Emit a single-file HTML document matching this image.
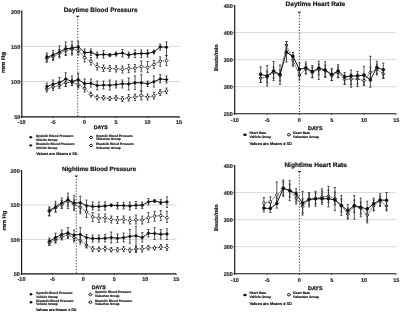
<!DOCTYPE html><html><head><meta charset="utf-8"><style>html,body{margin:0;padding:0;background:#fff;width:400px;height:312px;overflow:hidden}svg{display:block;filter:blur(0.3px)}text{font-family:"Liberation Sans",sans-serif;text-rendering:geometricPrecision}</style></head><body>
<svg width="400" height="312" viewBox="0 0 400 312">
<rect width="400" height="312" fill="#fff"/>
<line x1="22.30" y1="46.30" x2="179.60" y2="46.30" stroke="#cfcfcf" stroke-width="0.8" />
<line x1="22.30" y1="81.50" x2="179.60" y2="81.50" stroke="#cfcfcf" stroke-width="0.8" />
<line x1="21.80" y1="10.50" x2="21.80" y2="117.50" stroke="#111" stroke-width="1.15" />
<line x1="21.20" y1="116.90" x2="179.60" y2="116.90" stroke="#111" stroke-width="1.15" />
<line x1="20.50" y1="11.20" x2="21.70" y2="11.20" stroke="#1a1a1a" stroke-width="0.7" />
<text x="20.25" y="13.58" font-size="5.5" text-anchor="end" font-weight="bold" fill="#1a1a1a" stroke="#1a1a1a" stroke-width="0.15" >200</text>
<line x1="20.50" y1="46.30" x2="21.70" y2="46.30" stroke="#1a1a1a" stroke-width="0.7" />
<text x="20.25" y="48.68" font-size="5.5" text-anchor="end" font-weight="bold" fill="#1a1a1a" stroke="#1a1a1a" stroke-width="0.15" >150</text>
<line x1="20.50" y1="81.50" x2="21.70" y2="81.50" stroke="#1a1a1a" stroke-width="0.7" />
<text x="20.25" y="83.88" font-size="5.5" text-anchor="end" font-weight="bold" fill="#1a1a1a" stroke="#1a1a1a" stroke-width="0.15" >100</text>
<line x1="20.50" y1="116.90" x2="21.70" y2="116.90" stroke="#1a1a1a" stroke-width="0.7" />
<text x="20.25" y="119.28" font-size="5.5" text-anchor="end" font-weight="bold" fill="#1a1a1a" stroke="#1a1a1a" stroke-width="0.15" >50</text>
<line x1="21.60" y1="116.90" x2="21.60" y2="118.20" stroke="#1a1a1a" stroke-width="0.7" />
<text x="21.60" y="124.33" font-size="5.5" text-anchor="middle" font-weight="bold" fill="#1a1a1a" stroke="#1a1a1a" stroke-width="0.15" >-10</text>
<line x1="53.10" y1="116.90" x2="53.10" y2="118.20" stroke="#1a1a1a" stroke-width="0.7" />
<text x="53.10" y="124.33" font-size="5.5" text-anchor="middle" font-weight="bold" fill="#1a1a1a" stroke="#1a1a1a" stroke-width="0.15" >-5</text>
<line x1="84.60" y1="116.90" x2="84.60" y2="118.20" stroke="#1a1a1a" stroke-width="0.7" />
<text x="84.60" y="124.33" font-size="5.5" text-anchor="middle" font-weight="bold" fill="#1a1a1a" stroke="#1a1a1a" stroke-width="0.15" >0</text>
<line x1="116.10" y1="116.90" x2="116.10" y2="118.20" stroke="#1a1a1a" stroke-width="0.7" />
<text x="116.10" y="124.33" font-size="5.5" text-anchor="middle" font-weight="bold" fill="#1a1a1a" stroke="#1a1a1a" stroke-width="0.15" >5</text>
<line x1="147.60" y1="116.90" x2="147.60" y2="118.20" stroke="#1a1a1a" stroke-width="0.7" />
<text x="147.60" y="124.33" font-size="5.5" text-anchor="middle" font-weight="bold" fill="#1a1a1a" stroke="#1a1a1a" stroke-width="0.15" >10</text>
<line x1="179.10" y1="116.90" x2="179.10" y2="118.20" stroke="#1a1a1a" stroke-width="0.7" />
<text x="179.10" y="124.33" font-size="5.5" text-anchor="middle" font-weight="bold" fill="#1a1a1a" stroke="#1a1a1a" stroke-width="0.15" >15</text>
<line x1="77.75" y1="19.30" x2="77.75" y2="116.90" stroke="#222" stroke-width="0.9" stroke-dasharray="1.2 1.7"/>
<path d="M75.85 15.80L79.65 15.80L77.75 17.80Z" fill="#222"/>
<text x="63.75" y="11.70" font-size="6.38" text-anchor="start" font-weight="bold" fill="#111" stroke="#111" stroke-width="0.18" textLength="73.75" lengthAdjust="spacingAndGlyphs" >Daytime Blood Pressure</text>
<text x="93.75" y="129.38" font-size="5.21" text-anchor="start" font-weight="bold" fill="#111" stroke="#111" stroke-width="0.25" textLength="14.00" lengthAdjust="spacingAndGlyphs" >DAYS</text>
<text x="0" y="0" font-size="5.70" font-weight="bold" text-anchor="middle" fill="#111" stroke="#111" stroke-width="0.15" textLength="21.20" lengthAdjust="spacingAndGlyphs" transform="translate(4.90 62.50) rotate(-90)">mm Hg</text>
<line x1="46.80" y1="86.00" x2="46.80" y2="92.00" stroke="#2a2a2a" stroke-width="0.8" />
<line x1="45.70" y1="86.00" x2="47.90" y2="86.00" stroke="#2a2a2a" stroke-width="0.8" />
<line x1="45.70" y1="92.00" x2="47.90" y2="92.00" stroke="#2a2a2a" stroke-width="0.8" />
<line x1="53.10" y1="84.00" x2="53.10" y2="90.50" stroke="#2a2a2a" stroke-width="0.8" />
<line x1="52.00" y1="84.00" x2="54.20" y2="84.00" stroke="#2a2a2a" stroke-width="0.8" />
<line x1="52.00" y1="90.50" x2="54.20" y2="90.50" stroke="#2a2a2a" stroke-width="0.8" />
<line x1="59.40" y1="82.00" x2="59.40" y2="88.50" stroke="#2a2a2a" stroke-width="0.8" />
<line x1="58.30" y1="82.00" x2="60.50" y2="82.00" stroke="#2a2a2a" stroke-width="0.8" />
<line x1="58.30" y1="88.50" x2="60.50" y2="88.50" stroke="#2a2a2a" stroke-width="0.8" />
<line x1="65.70" y1="79.00" x2="65.70" y2="86.50" stroke="#2a2a2a" stroke-width="0.8" />
<line x1="64.60" y1="79.00" x2="66.80" y2="79.00" stroke="#2a2a2a" stroke-width="0.8" />
<line x1="64.60" y1="86.50" x2="66.80" y2="86.50" stroke="#2a2a2a" stroke-width="0.8" />
<line x1="72.00" y1="79.00" x2="72.00" y2="85.50" stroke="#2a2a2a" stroke-width="0.8" />
<line x1="70.90" y1="79.00" x2="73.10" y2="79.00" stroke="#2a2a2a" stroke-width="0.8" />
<line x1="70.90" y1="85.50" x2="73.10" y2="85.50" stroke="#2a2a2a" stroke-width="0.8" />
<line x1="78.30" y1="81.00" x2="78.30" y2="88.00" stroke="#2a2a2a" stroke-width="0.8" />
<line x1="77.20" y1="81.00" x2="79.40" y2="81.00" stroke="#2a2a2a" stroke-width="0.8" />
<line x1="77.20" y1="88.00" x2="79.40" y2="88.00" stroke="#2a2a2a" stroke-width="0.8" />
<line x1="84.60" y1="85.00" x2="84.60" y2="92.00" stroke="#2a2a2a" stroke-width="0.8" />
<line x1="83.50" y1="85.00" x2="85.70" y2="85.00" stroke="#2a2a2a" stroke-width="0.8" />
<line x1="83.50" y1="92.00" x2="85.70" y2="92.00" stroke="#2a2a2a" stroke-width="0.8" />
<line x1="90.90" y1="92.00" x2="90.90" y2="97.00" stroke="#2a2a2a" stroke-width="0.8" />
<line x1="89.80" y1="92.00" x2="92.00" y2="92.00" stroke="#2a2a2a" stroke-width="0.8" />
<line x1="89.80" y1="97.00" x2="92.00" y2="97.00" stroke="#2a2a2a" stroke-width="0.8" />
<line x1="97.20" y1="95.00" x2="97.20" y2="100.00" stroke="#2a2a2a" stroke-width="0.8" />
<line x1="96.10" y1="95.00" x2="98.30" y2="95.00" stroke="#2a2a2a" stroke-width="0.8" />
<line x1="96.10" y1="100.00" x2="98.30" y2="100.00" stroke="#2a2a2a" stroke-width="0.8" />
<line x1="103.50" y1="95.50" x2="103.50" y2="100.00" stroke="#2a2a2a" stroke-width="0.8" />
<line x1="102.40" y1="95.50" x2="104.60" y2="95.50" stroke="#2a2a2a" stroke-width="0.8" />
<line x1="102.40" y1="100.00" x2="104.60" y2="100.00" stroke="#2a2a2a" stroke-width="0.8" />
<line x1="109.80" y1="96.50" x2="109.80" y2="100.50" stroke="#2a2a2a" stroke-width="0.8" />
<line x1="108.70" y1="96.50" x2="110.90" y2="96.50" stroke="#2a2a2a" stroke-width="0.8" />
<line x1="108.70" y1="100.50" x2="110.90" y2="100.50" stroke="#2a2a2a" stroke-width="0.8" />
<line x1="116.10" y1="95.50" x2="116.10" y2="100.50" stroke="#2a2a2a" stroke-width="0.8" />
<line x1="115.00" y1="95.50" x2="117.20" y2="95.50" stroke="#2a2a2a" stroke-width="0.8" />
<line x1="115.00" y1="100.50" x2="117.20" y2="100.50" stroke="#2a2a2a" stroke-width="0.8" />
<line x1="122.40" y1="96.50" x2="122.40" y2="101.50" stroke="#2a2a2a" stroke-width="0.8" />
<line x1="121.30" y1="96.50" x2="123.50" y2="96.50" stroke="#2a2a2a" stroke-width="0.8" />
<line x1="121.30" y1="101.50" x2="123.50" y2="101.50" stroke="#2a2a2a" stroke-width="0.8" />
<line x1="128.70" y1="94.50" x2="128.70" y2="101.00" stroke="#2a2a2a" stroke-width="0.8" />
<line x1="127.60" y1="94.50" x2="129.80" y2="94.50" stroke="#2a2a2a" stroke-width="0.8" />
<line x1="127.60" y1="101.00" x2="129.80" y2="101.00" stroke="#2a2a2a" stroke-width="0.8" />
<line x1="135.00" y1="94.00" x2="135.00" y2="100.50" stroke="#2a2a2a" stroke-width="0.8" />
<line x1="133.90" y1="94.00" x2="136.10" y2="94.00" stroke="#2a2a2a" stroke-width="0.8" />
<line x1="133.90" y1="100.50" x2="136.10" y2="100.50" stroke="#2a2a2a" stroke-width="0.8" />
<line x1="141.30" y1="91.00" x2="141.30" y2="100.00" stroke="#2a2a2a" stroke-width="0.8" />
<line x1="140.20" y1="91.00" x2="142.40" y2="91.00" stroke="#2a2a2a" stroke-width="0.8" />
<line x1="140.20" y1="100.00" x2="142.40" y2="100.00" stroke="#2a2a2a" stroke-width="0.8" />
<line x1="147.60" y1="94.00" x2="147.60" y2="100.00" stroke="#2a2a2a" stroke-width="0.8" />
<line x1="146.50" y1="94.00" x2="148.70" y2="94.00" stroke="#2a2a2a" stroke-width="0.8" />
<line x1="146.50" y1="100.00" x2="148.70" y2="100.00" stroke="#2a2a2a" stroke-width="0.8" />
<line x1="153.90" y1="92.50" x2="153.90" y2="99.00" stroke="#2a2a2a" stroke-width="0.8" />
<line x1="152.80" y1="92.50" x2="155.00" y2="92.50" stroke="#2a2a2a" stroke-width="0.8" />
<line x1="152.80" y1="99.00" x2="155.00" y2="99.00" stroke="#2a2a2a" stroke-width="0.8" />
<line x1="160.20" y1="89.50" x2="160.20" y2="95.50" stroke="#2a2a2a" stroke-width="0.8" />
<line x1="159.10" y1="89.50" x2="161.30" y2="89.50" stroke="#2a2a2a" stroke-width="0.8" />
<line x1="159.10" y1="95.50" x2="161.30" y2="95.50" stroke="#2a2a2a" stroke-width="0.8" />
<line x1="166.50" y1="88.00" x2="166.50" y2="93.50" stroke="#2a2a2a" stroke-width="0.8" />
<line x1="165.40" y1="88.00" x2="167.60" y2="88.00" stroke="#2a2a2a" stroke-width="0.8" />
<line x1="165.40" y1="93.50" x2="167.60" y2="93.50" stroke="#2a2a2a" stroke-width="0.8" />
<path d="M46.80 89.00 L53.10 87.10 L59.40 85.25 L65.70 82.75 L72.00 82.30 L78.30 84.60 L84.60 88.40 L90.90 94.60 L97.20 97.50 L103.50 97.75 L109.80 98.40 L116.10 98.00 L122.40 99.00 L128.70 97.75 L135.00 97.10 L141.30 95.50 L147.60 97.10 L153.90 95.90 L160.20 92.50 L166.50 90.90" fill="none" stroke="#1a1a1a" stroke-width="0.7" stroke-dasharray="1.4 0.6"/>
<path d="M46.80 87.40L48.40 89.00L46.80 90.60L45.20 89.00Z" fill="#fff" stroke="#111" stroke-width="0.9"/>
<path d="M53.10 85.50L54.70 87.10L53.10 88.70L51.50 87.10Z" fill="#fff" stroke="#111" stroke-width="0.9"/>
<path d="M59.40 83.65L61.00 85.25L59.40 86.85L57.80 85.25Z" fill="#fff" stroke="#111" stroke-width="0.9"/>
<path d="M65.70 81.15L67.30 82.75L65.70 84.35L64.10 82.75Z" fill="#fff" stroke="#111" stroke-width="0.9"/>
<path d="M72.00 80.70L73.60 82.30L72.00 83.90L70.40 82.30Z" fill="#fff" stroke="#111" stroke-width="0.9"/>
<path d="M78.30 83.00L79.90 84.60L78.30 86.20L76.70 84.60Z" fill="#fff" stroke="#111" stroke-width="0.9"/>
<path d="M84.60 86.80L86.20 88.40L84.60 90.00L83.00 88.40Z" fill="#fff" stroke="#111" stroke-width="0.9"/>
<path d="M90.90 93.00L92.50 94.60L90.90 96.20L89.30 94.60Z" fill="#fff" stroke="#111" stroke-width="0.9"/>
<path d="M97.20 95.90L98.80 97.50L97.20 99.10L95.60 97.50Z" fill="#fff" stroke="#111" stroke-width="0.9"/>
<path d="M103.50 96.15L105.10 97.75L103.50 99.35L101.90 97.75Z" fill="#fff" stroke="#111" stroke-width="0.9"/>
<path d="M109.80 96.80L111.40 98.40L109.80 100.00L108.20 98.40Z" fill="#fff" stroke="#111" stroke-width="0.9"/>
<path d="M116.10 96.40L117.70 98.00L116.10 99.60L114.50 98.00Z" fill="#fff" stroke="#111" stroke-width="0.9"/>
<path d="M122.40 97.40L124.00 99.00L122.40 100.60L120.80 99.00Z" fill="#fff" stroke="#111" stroke-width="0.9"/>
<path d="M128.70 96.15L130.30 97.75L128.70 99.35L127.10 97.75Z" fill="#fff" stroke="#111" stroke-width="0.9"/>
<path d="M135.00 95.50L136.60 97.10L135.00 98.70L133.40 97.10Z" fill="#fff" stroke="#111" stroke-width="0.9"/>
<path d="M141.30 93.90L142.90 95.50L141.30 97.10L139.70 95.50Z" fill="#fff" stroke="#111" stroke-width="0.9"/>
<path d="M147.60 95.50L149.20 97.10L147.60 98.70L146.00 97.10Z" fill="#fff" stroke="#111" stroke-width="0.9"/>
<path d="M153.90 94.30L155.50 95.90L153.90 97.50L152.30 95.90Z" fill="#fff" stroke="#111" stroke-width="0.9"/>
<path d="M160.20 90.90L161.80 92.50L160.20 94.10L158.60 92.50Z" fill="#fff" stroke="#111" stroke-width="0.9"/>
<path d="M166.50 89.30L168.10 90.90L166.50 92.50L164.90 90.90Z" fill="#fff" stroke="#111" stroke-width="0.9"/>
<line x1="46.80" y1="55.00" x2="46.80" y2="62.00" stroke="#2a2a2a" stroke-width="0.8" />
<line x1="45.70" y1="55.00" x2="47.90" y2="55.00" stroke="#2a2a2a" stroke-width="0.8" />
<line x1="45.70" y1="62.00" x2="47.90" y2="62.00" stroke="#2a2a2a" stroke-width="0.8" />
<line x1="53.10" y1="53.00" x2="53.10" y2="60.50" stroke="#2a2a2a" stroke-width="0.8" />
<line x1="52.00" y1="53.00" x2="54.20" y2="53.00" stroke="#2a2a2a" stroke-width="0.8" />
<line x1="52.00" y1="60.50" x2="54.20" y2="60.50" stroke="#2a2a2a" stroke-width="0.8" />
<line x1="59.40" y1="49.50" x2="59.40" y2="58.00" stroke="#2a2a2a" stroke-width="0.8" />
<line x1="58.30" y1="49.50" x2="60.50" y2="49.50" stroke="#2a2a2a" stroke-width="0.8" />
<line x1="58.30" y1="58.00" x2="60.50" y2="58.00" stroke="#2a2a2a" stroke-width="0.8" />
<line x1="65.70" y1="46.00" x2="65.70" y2="55.00" stroke="#2a2a2a" stroke-width="0.8" />
<line x1="64.60" y1="46.00" x2="66.80" y2="46.00" stroke="#2a2a2a" stroke-width="0.8" />
<line x1="64.60" y1="55.00" x2="66.80" y2="55.00" stroke="#2a2a2a" stroke-width="0.8" />
<line x1="72.00" y1="45.00" x2="72.00" y2="53.50" stroke="#2a2a2a" stroke-width="0.8" />
<line x1="70.90" y1="45.00" x2="73.10" y2="45.00" stroke="#2a2a2a" stroke-width="0.8" />
<line x1="70.90" y1="53.50" x2="73.10" y2="53.50" stroke="#2a2a2a" stroke-width="0.8" />
<line x1="78.30" y1="46.00" x2="78.30" y2="55.00" stroke="#2a2a2a" stroke-width="0.8" />
<line x1="77.20" y1="46.00" x2="79.40" y2="46.00" stroke="#2a2a2a" stroke-width="0.8" />
<line x1="77.20" y1="55.00" x2="79.40" y2="55.00" stroke="#2a2a2a" stroke-width="0.8" />
<line x1="84.60" y1="53.00" x2="84.60" y2="62.00" stroke="#2a2a2a" stroke-width="0.8" />
<line x1="83.50" y1="53.00" x2="85.70" y2="53.00" stroke="#2a2a2a" stroke-width="0.8" />
<line x1="83.50" y1="62.00" x2="85.70" y2="62.00" stroke="#2a2a2a" stroke-width="0.8" />
<line x1="90.90" y1="57.50" x2="90.90" y2="65.00" stroke="#2a2a2a" stroke-width="0.8" />
<line x1="89.80" y1="57.50" x2="92.00" y2="57.50" stroke="#2a2a2a" stroke-width="0.8" />
<line x1="89.80" y1="65.00" x2="92.00" y2="65.00" stroke="#2a2a2a" stroke-width="0.8" />
<line x1="97.20" y1="63.00" x2="97.20" y2="70.00" stroke="#2a2a2a" stroke-width="0.8" />
<line x1="96.10" y1="63.00" x2="98.30" y2="63.00" stroke="#2a2a2a" stroke-width="0.8" />
<line x1="96.10" y1="70.00" x2="98.30" y2="70.00" stroke="#2a2a2a" stroke-width="0.8" />
<line x1="103.50" y1="65.00" x2="103.50" y2="71.50" stroke="#2a2a2a" stroke-width="0.8" />
<line x1="102.40" y1="65.00" x2="104.60" y2="65.00" stroke="#2a2a2a" stroke-width="0.8" />
<line x1="102.40" y1="71.50" x2="104.60" y2="71.50" stroke="#2a2a2a" stroke-width="0.8" />
<line x1="109.80" y1="65.50" x2="109.80" y2="71.50" stroke="#2a2a2a" stroke-width="0.8" />
<line x1="108.70" y1="65.50" x2="110.90" y2="65.50" stroke="#2a2a2a" stroke-width="0.8" />
<line x1="108.70" y1="71.50" x2="110.90" y2="71.50" stroke="#2a2a2a" stroke-width="0.8" />
<line x1="116.10" y1="65.50" x2="116.10" y2="72.00" stroke="#2a2a2a" stroke-width="0.8" />
<line x1="115.00" y1="65.50" x2="117.20" y2="65.50" stroke="#2a2a2a" stroke-width="0.8" />
<line x1="115.00" y1="72.00" x2="117.20" y2="72.00" stroke="#2a2a2a" stroke-width="0.8" />
<line x1="122.40" y1="66.00" x2="122.40" y2="73.00" stroke="#2a2a2a" stroke-width="0.8" />
<line x1="121.30" y1="66.00" x2="123.50" y2="66.00" stroke="#2a2a2a" stroke-width="0.8" />
<line x1="121.30" y1="73.00" x2="123.50" y2="73.00" stroke="#2a2a2a" stroke-width="0.8" />
<line x1="128.70" y1="64.40" x2="128.70" y2="72.75" stroke="#2a2a2a" stroke-width="0.8" />
<line x1="127.60" y1="64.40" x2="129.80" y2="64.40" stroke="#2a2a2a" stroke-width="0.8" />
<line x1="127.60" y1="72.75" x2="129.80" y2="72.75" stroke="#2a2a2a" stroke-width="0.8" />
<line x1="135.00" y1="64.50" x2="135.00" y2="72.00" stroke="#2a2a2a" stroke-width="0.8" />
<line x1="133.90" y1="64.50" x2="136.10" y2="64.50" stroke="#2a2a2a" stroke-width="0.8" />
<line x1="133.90" y1="72.00" x2="136.10" y2="72.00" stroke="#2a2a2a" stroke-width="0.8" />
<line x1="141.30" y1="61.00" x2="141.30" y2="71.90" stroke="#2a2a2a" stroke-width="0.8" />
<line x1="140.20" y1="61.00" x2="142.40" y2="61.00" stroke="#2a2a2a" stroke-width="0.8" />
<line x1="140.20" y1="71.90" x2="142.40" y2="71.90" stroke="#2a2a2a" stroke-width="0.8" />
<line x1="147.60" y1="61.50" x2="147.60" y2="72.50" stroke="#2a2a2a" stroke-width="0.8" />
<line x1="146.50" y1="61.50" x2="148.70" y2="61.50" stroke="#2a2a2a" stroke-width="0.8" />
<line x1="146.50" y1="72.50" x2="148.70" y2="72.50" stroke="#2a2a2a" stroke-width="0.8" />
<line x1="153.90" y1="60.50" x2="153.90" y2="68.50" stroke="#2a2a2a" stroke-width="0.8" />
<line x1="152.80" y1="60.50" x2="155.00" y2="60.50" stroke="#2a2a2a" stroke-width="0.8" />
<line x1="152.80" y1="68.50" x2="155.00" y2="68.50" stroke="#2a2a2a" stroke-width="0.8" />
<line x1="160.20" y1="56.90" x2="160.20" y2="66.25" stroke="#2a2a2a" stroke-width="0.8" />
<line x1="159.10" y1="56.90" x2="161.30" y2="56.90" stroke="#2a2a2a" stroke-width="0.8" />
<line x1="159.10" y1="66.25" x2="161.30" y2="66.25" stroke="#2a2a2a" stroke-width="0.8" />
<line x1="166.50" y1="55.60" x2="166.50" y2="65.60" stroke="#2a2a2a" stroke-width="0.8" />
<line x1="165.40" y1="55.60" x2="167.60" y2="55.60" stroke="#2a2a2a" stroke-width="0.8" />
<line x1="165.40" y1="65.60" x2="167.60" y2="65.60" stroke="#2a2a2a" stroke-width="0.8" />
<path d="M46.80 58.50 L53.10 56.50 L59.40 53.50 L65.70 50.50 L72.00 49.20 L78.30 50.60 L84.60 57.50 L90.90 61.25 L97.20 66.50 L103.50 68.10 L109.80 68.50 L116.10 68.75 L122.40 69.40 L128.70 68.50 L135.00 68.10 L141.30 66.50 L147.60 67.50 L153.90 64.40 L160.20 61.25 L166.50 60.60" fill="none" stroke="#1a1a1a" stroke-width="0.7" stroke-dasharray="1.4 0.6"/>
<path d="M46.80 56.90L48.40 58.50L46.80 60.10L45.20 58.50Z" fill="#fff" stroke="#111" stroke-width="0.9"/>
<path d="M53.10 54.90L54.70 56.50L53.10 58.10L51.50 56.50Z" fill="#fff" stroke="#111" stroke-width="0.9"/>
<path d="M59.40 51.90L61.00 53.50L59.40 55.10L57.80 53.50Z" fill="#fff" stroke="#111" stroke-width="0.9"/>
<path d="M65.70 48.90L67.30 50.50L65.70 52.10L64.10 50.50Z" fill="#fff" stroke="#111" stroke-width="0.9"/>
<path d="M72.00 47.60L73.60 49.20L72.00 50.80L70.40 49.20Z" fill="#fff" stroke="#111" stroke-width="0.9"/>
<path d="M78.30 49.00L79.90 50.60L78.30 52.20L76.70 50.60Z" fill="#fff" stroke="#111" stroke-width="0.9"/>
<path d="M84.60 55.90L86.20 57.50L84.60 59.10L83.00 57.50Z" fill="#fff" stroke="#111" stroke-width="0.9"/>
<path d="M90.90 59.65L92.50 61.25L90.90 62.85L89.30 61.25Z" fill="#fff" stroke="#111" stroke-width="0.9"/>
<path d="M97.20 64.90L98.80 66.50L97.20 68.10L95.60 66.50Z" fill="#fff" stroke="#111" stroke-width="0.9"/>
<path d="M103.50 66.50L105.10 68.10L103.50 69.70L101.90 68.10Z" fill="#fff" stroke="#111" stroke-width="0.9"/>
<path d="M109.80 66.90L111.40 68.50L109.80 70.10L108.20 68.50Z" fill="#fff" stroke="#111" stroke-width="0.9"/>
<path d="M116.10 67.15L117.70 68.75L116.10 70.35L114.50 68.75Z" fill="#fff" stroke="#111" stroke-width="0.9"/>
<path d="M122.40 67.80L124.00 69.40L122.40 71.00L120.80 69.40Z" fill="#fff" stroke="#111" stroke-width="0.9"/>
<path d="M128.70 66.90L130.30 68.50L128.70 70.10L127.10 68.50Z" fill="#fff" stroke="#111" stroke-width="0.9"/>
<path d="M135.00 66.50L136.60 68.10L135.00 69.70L133.40 68.10Z" fill="#fff" stroke="#111" stroke-width="0.9"/>
<path d="M141.30 64.90L142.90 66.50L141.30 68.10L139.70 66.50Z" fill="#fff" stroke="#111" stroke-width="0.9"/>
<path d="M147.60 65.90L149.20 67.50L147.60 69.10L146.00 67.50Z" fill="#fff" stroke="#111" stroke-width="0.9"/>
<path d="M153.90 62.80L155.50 64.40L153.90 66.00L152.30 64.40Z" fill="#fff" stroke="#111" stroke-width="0.9"/>
<path d="M160.20 59.65L161.80 61.25L160.20 62.85L158.60 61.25Z" fill="#fff" stroke="#111" stroke-width="0.9"/>
<path d="M166.50 59.00L168.10 60.60L166.50 62.20L164.90 60.60Z" fill="#fff" stroke="#111" stroke-width="0.9"/>
<line x1="46.80" y1="83.00" x2="46.80" y2="90.00" stroke="#2a2a2a" stroke-width="0.8" />
<line x1="45.70" y1="83.00" x2="47.90" y2="83.00" stroke="#2a2a2a" stroke-width="0.8" />
<line x1="45.70" y1="90.00" x2="47.90" y2="90.00" stroke="#2a2a2a" stroke-width="0.8" />
<line x1="53.10" y1="80.00" x2="53.10" y2="88.50" stroke="#2a2a2a" stroke-width="0.8" />
<line x1="52.00" y1="80.00" x2="54.20" y2="80.00" stroke="#2a2a2a" stroke-width="0.8" />
<line x1="52.00" y1="88.50" x2="54.20" y2="88.50" stroke="#2a2a2a" stroke-width="0.8" />
<line x1="59.40" y1="77.50" x2="59.40" y2="87.00" stroke="#2a2a2a" stroke-width="0.8" />
<line x1="58.30" y1="77.50" x2="60.50" y2="77.50" stroke="#2a2a2a" stroke-width="0.8" />
<line x1="58.30" y1="87.00" x2="60.50" y2="87.00" stroke="#2a2a2a" stroke-width="0.8" />
<line x1="65.70" y1="72.75" x2="65.70" y2="86.50" stroke="#2a2a2a" stroke-width="0.8" />
<line x1="64.60" y1="72.75" x2="66.80" y2="72.75" stroke="#2a2a2a" stroke-width="0.8" />
<line x1="64.60" y1="86.50" x2="66.80" y2="86.50" stroke="#2a2a2a" stroke-width="0.8" />
<line x1="72.00" y1="76.00" x2="72.00" y2="85.50" stroke="#2a2a2a" stroke-width="0.8" />
<line x1="70.90" y1="76.00" x2="73.10" y2="76.00" stroke="#2a2a2a" stroke-width="0.8" />
<line x1="70.90" y1="85.50" x2="73.10" y2="85.50" stroke="#2a2a2a" stroke-width="0.8" />
<line x1="78.30" y1="73.40" x2="78.30" y2="87.00" stroke="#2a2a2a" stroke-width="0.8" />
<line x1="77.20" y1="73.40" x2="79.40" y2="73.40" stroke="#2a2a2a" stroke-width="0.8" />
<line x1="77.20" y1="87.00" x2="79.40" y2="87.00" stroke="#2a2a2a" stroke-width="0.8" />
<line x1="84.60" y1="79.00" x2="84.60" y2="88.00" stroke="#2a2a2a" stroke-width="0.8" />
<line x1="83.50" y1="79.00" x2="85.70" y2="79.00" stroke="#2a2a2a" stroke-width="0.8" />
<line x1="83.50" y1="88.00" x2="85.70" y2="88.00" stroke="#2a2a2a" stroke-width="0.8" />
<line x1="90.90" y1="79.00" x2="90.90" y2="87.00" stroke="#2a2a2a" stroke-width="0.8" />
<line x1="89.80" y1="79.00" x2="92.00" y2="79.00" stroke="#2a2a2a" stroke-width="0.8" />
<line x1="89.80" y1="87.00" x2="92.00" y2="87.00" stroke="#2a2a2a" stroke-width="0.8" />
<line x1="97.20" y1="81.00" x2="97.20" y2="90.00" stroke="#2a2a2a" stroke-width="0.8" />
<line x1="96.10" y1="81.00" x2="98.30" y2="81.00" stroke="#2a2a2a" stroke-width="0.8" />
<line x1="96.10" y1="90.00" x2="98.30" y2="90.00" stroke="#2a2a2a" stroke-width="0.8" />
<line x1="103.50" y1="81.00" x2="103.50" y2="89.00" stroke="#2a2a2a" stroke-width="0.8" />
<line x1="102.40" y1="81.00" x2="104.60" y2="81.00" stroke="#2a2a2a" stroke-width="0.8" />
<line x1="102.40" y1="89.00" x2="104.60" y2="89.00" stroke="#2a2a2a" stroke-width="0.8" />
<line x1="109.80" y1="80.00" x2="109.80" y2="90.00" stroke="#2a2a2a" stroke-width="0.8" />
<line x1="108.70" y1="80.00" x2="110.90" y2="80.00" stroke="#2a2a2a" stroke-width="0.8" />
<line x1="108.70" y1="90.00" x2="110.90" y2="90.00" stroke="#2a2a2a" stroke-width="0.8" />
<line x1="116.10" y1="81.00" x2="116.10" y2="88.00" stroke="#2a2a2a" stroke-width="0.8" />
<line x1="115.00" y1="81.00" x2="117.20" y2="81.00" stroke="#2a2a2a" stroke-width="0.8" />
<line x1="115.00" y1="88.00" x2="117.20" y2="88.00" stroke="#2a2a2a" stroke-width="0.8" />
<line x1="122.40" y1="80.00" x2="122.40" y2="88.00" stroke="#2a2a2a" stroke-width="0.8" />
<line x1="121.30" y1="80.00" x2="123.50" y2="80.00" stroke="#2a2a2a" stroke-width="0.8" />
<line x1="121.30" y1="88.00" x2="123.50" y2="88.00" stroke="#2a2a2a" stroke-width="0.8" />
<line x1="128.70" y1="78.00" x2="128.70" y2="90.00" stroke="#2a2a2a" stroke-width="0.8" />
<line x1="127.60" y1="78.00" x2="129.80" y2="78.00" stroke="#2a2a2a" stroke-width="0.8" />
<line x1="127.60" y1="90.00" x2="129.80" y2="90.00" stroke="#2a2a2a" stroke-width="0.8" />
<line x1="135.00" y1="75.90" x2="135.00" y2="89.60" stroke="#2a2a2a" stroke-width="0.8" />
<line x1="133.90" y1="75.90" x2="136.10" y2="75.90" stroke="#2a2a2a" stroke-width="0.8" />
<line x1="133.90" y1="89.60" x2="136.10" y2="89.60" stroke="#2a2a2a" stroke-width="0.8" />
<line x1="141.30" y1="74.60" x2="141.30" y2="90.90" stroke="#2a2a2a" stroke-width="0.8" />
<line x1="140.20" y1="74.60" x2="142.40" y2="74.60" stroke="#2a2a2a" stroke-width="0.8" />
<line x1="140.20" y1="90.90" x2="142.40" y2="90.90" stroke="#2a2a2a" stroke-width="0.8" />
<line x1="147.60" y1="81.00" x2="147.60" y2="86.50" stroke="#2a2a2a" stroke-width="0.8" />
<line x1="146.50" y1="81.00" x2="148.70" y2="81.00" stroke="#2a2a2a" stroke-width="0.8" />
<line x1="146.50" y1="86.50" x2="148.70" y2="86.50" stroke="#2a2a2a" stroke-width="0.8" />
<line x1="153.90" y1="75.90" x2="153.90" y2="87.00" stroke="#2a2a2a" stroke-width="0.8" />
<line x1="152.80" y1="75.90" x2="155.00" y2="75.90" stroke="#2a2a2a" stroke-width="0.8" />
<line x1="152.80" y1="87.00" x2="155.00" y2="87.00" stroke="#2a2a2a" stroke-width="0.8" />
<line x1="160.20" y1="74.60" x2="160.20" y2="82.75" stroke="#2a2a2a" stroke-width="0.8" />
<line x1="159.10" y1="74.60" x2="161.30" y2="74.60" stroke="#2a2a2a" stroke-width="0.8" />
<line x1="159.10" y1="82.75" x2="161.30" y2="82.75" stroke="#2a2a2a" stroke-width="0.8" />
<line x1="166.50" y1="76.00" x2="166.50" y2="83.00" stroke="#2a2a2a" stroke-width="0.8" />
<line x1="165.40" y1="76.00" x2="167.60" y2="76.00" stroke="#2a2a2a" stroke-width="0.8" />
<line x1="165.40" y1="83.00" x2="167.60" y2="83.00" stroke="#2a2a2a" stroke-width="0.8" />
<path d="M46.80 86.50 L53.10 84.30 L59.40 82.50 L65.70 79.00 L72.00 81.50 L78.30 79.60 L84.60 83.50 L90.90 83.40 L97.20 85.50 L103.50 85.00 L109.80 85.25 L116.10 84.60 L122.40 83.75 L128.70 84.00 L135.00 82.75 L141.30 82.75 L147.60 83.75 L153.90 81.75 L160.20 79.00 L166.50 79.60" fill="none" stroke="#111" stroke-width="1.0"/>
<path d="M46.80 84.80L48.50 86.50L46.80 88.20L45.10 86.50Z" fill="#111" stroke="#111" stroke-width="0.4"/>
<path d="M53.10 82.60L54.80 84.30L53.10 86.00L51.40 84.30Z" fill="#111" stroke="#111" stroke-width="0.4"/>
<path d="M59.40 80.80L61.10 82.50L59.40 84.20L57.70 82.50Z" fill="#111" stroke="#111" stroke-width="0.4"/>
<path d="M65.70 77.30L67.40 79.00L65.70 80.70L64.00 79.00Z" fill="#111" stroke="#111" stroke-width="0.4"/>
<path d="M72.00 79.80L73.70 81.50L72.00 83.20L70.30 81.50Z" fill="#111" stroke="#111" stroke-width="0.4"/>
<path d="M78.30 77.90L80.00 79.60L78.30 81.30L76.60 79.60Z" fill="#111" stroke="#111" stroke-width="0.4"/>
<path d="M84.60 81.80L86.30 83.50L84.60 85.20L82.90 83.50Z" fill="#111" stroke="#111" stroke-width="0.4"/>
<path d="M90.90 81.70L92.60 83.40L90.90 85.10L89.20 83.40Z" fill="#111" stroke="#111" stroke-width="0.4"/>
<path d="M97.20 83.80L98.90 85.50L97.20 87.20L95.50 85.50Z" fill="#111" stroke="#111" stroke-width="0.4"/>
<path d="M103.50 83.30L105.20 85.00L103.50 86.70L101.80 85.00Z" fill="#111" stroke="#111" stroke-width="0.4"/>
<path d="M109.80 83.55L111.50 85.25L109.80 86.95L108.10 85.25Z" fill="#111" stroke="#111" stroke-width="0.4"/>
<path d="M116.10 82.90L117.80 84.60L116.10 86.30L114.40 84.60Z" fill="#111" stroke="#111" stroke-width="0.4"/>
<path d="M122.40 82.05L124.10 83.75L122.40 85.45L120.70 83.75Z" fill="#111" stroke="#111" stroke-width="0.4"/>
<path d="M128.70 82.30L130.40 84.00L128.70 85.70L127.00 84.00Z" fill="#111" stroke="#111" stroke-width="0.4"/>
<path d="M135.00 81.05L136.70 82.75L135.00 84.45L133.30 82.75Z" fill="#111" stroke="#111" stroke-width="0.4"/>
<path d="M141.30 81.05L143.00 82.75L141.30 84.45L139.60 82.75Z" fill="#111" stroke="#111" stroke-width="0.4"/>
<path d="M147.60 82.05L149.30 83.75L147.60 85.45L145.90 83.75Z" fill="#111" stroke="#111" stroke-width="0.4"/>
<path d="M153.90 80.05L155.60 81.75L153.90 83.45L152.20 81.75Z" fill="#111" stroke="#111" stroke-width="0.4"/>
<path d="M160.20 77.30L161.90 79.00L160.20 80.70L158.50 79.00Z" fill="#111" stroke="#111" stroke-width="0.4"/>
<path d="M166.50 77.90L168.20 79.60L166.50 81.30L164.80 79.60Z" fill="#111" stroke="#111" stroke-width="0.4"/>
<line x1="46.80" y1="53.00" x2="46.80" y2="61.90" stroke="#2a2a2a" stroke-width="0.8" />
<line x1="45.70" y1="53.00" x2="47.90" y2="53.00" stroke="#2a2a2a" stroke-width="0.8" />
<line x1="45.70" y1="61.90" x2="47.90" y2="61.90" stroke="#2a2a2a" stroke-width="0.8" />
<line x1="53.10" y1="50.50" x2="53.10" y2="59.50" stroke="#2a2a2a" stroke-width="0.8" />
<line x1="52.00" y1="50.50" x2="54.20" y2="50.50" stroke="#2a2a2a" stroke-width="0.8" />
<line x1="52.00" y1="59.50" x2="54.20" y2="59.50" stroke="#2a2a2a" stroke-width="0.8" />
<line x1="59.40" y1="46.00" x2="59.40" y2="56.50" stroke="#2a2a2a" stroke-width="0.8" />
<line x1="58.30" y1="46.00" x2="60.50" y2="46.00" stroke="#2a2a2a" stroke-width="0.8" />
<line x1="58.30" y1="56.50" x2="60.50" y2="56.50" stroke="#2a2a2a" stroke-width="0.8" />
<line x1="65.70" y1="41.90" x2="65.70" y2="55.60" stroke="#2a2a2a" stroke-width="0.8" />
<line x1="64.60" y1="41.90" x2="66.80" y2="41.90" stroke="#2a2a2a" stroke-width="0.8" />
<line x1="64.60" y1="55.60" x2="66.80" y2="55.60" stroke="#2a2a2a" stroke-width="0.8" />
<line x1="72.00" y1="41.30" x2="72.00" y2="55.00" stroke="#2a2a2a" stroke-width="0.8" />
<line x1="70.90" y1="41.30" x2="73.10" y2="41.30" stroke="#2a2a2a" stroke-width="0.8" />
<line x1="70.90" y1="55.00" x2="73.10" y2="55.00" stroke="#2a2a2a" stroke-width="0.8" />
<line x1="78.30" y1="41.25" x2="78.30" y2="52.50" stroke="#2a2a2a" stroke-width="0.8" />
<line x1="77.20" y1="41.25" x2="79.40" y2="41.25" stroke="#2a2a2a" stroke-width="0.8" />
<line x1="77.20" y1="52.50" x2="79.40" y2="52.50" stroke="#2a2a2a" stroke-width="0.8" />
<line x1="84.60" y1="49.00" x2="84.60" y2="56.50" stroke="#2a2a2a" stroke-width="0.8" />
<line x1="83.50" y1="49.00" x2="85.70" y2="49.00" stroke="#2a2a2a" stroke-width="0.8" />
<line x1="83.50" y1="56.50" x2="85.70" y2="56.50" stroke="#2a2a2a" stroke-width="0.8" />
<line x1="90.90" y1="49.00" x2="90.90" y2="55.50" stroke="#2a2a2a" stroke-width="0.8" />
<line x1="89.80" y1="49.00" x2="92.00" y2="49.00" stroke="#2a2a2a" stroke-width="0.8" />
<line x1="89.80" y1="55.50" x2="92.00" y2="55.50" stroke="#2a2a2a" stroke-width="0.8" />
<line x1="97.20" y1="52.00" x2="97.20" y2="58.00" stroke="#2a2a2a" stroke-width="0.8" />
<line x1="96.10" y1="52.00" x2="98.30" y2="52.00" stroke="#2a2a2a" stroke-width="0.8" />
<line x1="96.10" y1="58.00" x2="98.30" y2="58.00" stroke="#2a2a2a" stroke-width="0.8" />
<line x1="103.50" y1="50.50" x2="103.50" y2="58.00" stroke="#2a2a2a" stroke-width="0.8" />
<line x1="102.40" y1="50.50" x2="104.60" y2="50.50" stroke="#2a2a2a" stroke-width="0.8" />
<line x1="102.40" y1="58.00" x2="104.60" y2="58.00" stroke="#2a2a2a" stroke-width="0.8" />
<line x1="109.80" y1="53.50" x2="109.80" y2="56.50" stroke="#2a2a2a" stroke-width="0.8" />
<line x1="108.70" y1="53.50" x2="110.90" y2="53.50" stroke="#2a2a2a" stroke-width="0.8" />
<line x1="108.70" y1="56.50" x2="110.90" y2="56.50" stroke="#2a2a2a" stroke-width="0.8" />
<line x1="116.10" y1="52.00" x2="116.10" y2="56.00" stroke="#2a2a2a" stroke-width="0.8" />
<line x1="115.00" y1="52.00" x2="117.20" y2="52.00" stroke="#2a2a2a" stroke-width="0.8" />
<line x1="115.00" y1="56.00" x2="117.20" y2="56.00" stroke="#2a2a2a" stroke-width="0.8" />
<line x1="122.40" y1="49.50" x2="122.40" y2="57.00" stroke="#2a2a2a" stroke-width="0.8" />
<line x1="121.30" y1="49.50" x2="123.50" y2="49.50" stroke="#2a2a2a" stroke-width="0.8" />
<line x1="121.30" y1="57.00" x2="123.50" y2="57.00" stroke="#2a2a2a" stroke-width="0.8" />
<line x1="128.70" y1="52.00" x2="128.70" y2="58.00" stroke="#2a2a2a" stroke-width="0.8" />
<line x1="127.60" y1="52.00" x2="129.80" y2="52.00" stroke="#2a2a2a" stroke-width="0.8" />
<line x1="127.60" y1="58.00" x2="129.80" y2="58.00" stroke="#2a2a2a" stroke-width="0.8" />
<line x1="135.00" y1="50.00" x2="135.00" y2="57.50" stroke="#2a2a2a" stroke-width="0.8" />
<line x1="133.90" y1="50.00" x2="136.10" y2="50.00" stroke="#2a2a2a" stroke-width="0.8" />
<line x1="133.90" y1="57.50" x2="136.10" y2="57.50" stroke="#2a2a2a" stroke-width="0.8" />
<line x1="141.30" y1="50.00" x2="141.30" y2="57.50" stroke="#2a2a2a" stroke-width="0.8" />
<line x1="140.20" y1="50.00" x2="142.40" y2="50.00" stroke="#2a2a2a" stroke-width="0.8" />
<line x1="140.20" y1="57.50" x2="142.40" y2="57.50" stroke="#2a2a2a" stroke-width="0.8" />
<line x1="147.60" y1="50.00" x2="147.60" y2="57.00" stroke="#2a2a2a" stroke-width="0.8" />
<line x1="146.50" y1="50.00" x2="148.70" y2="50.00" stroke="#2a2a2a" stroke-width="0.8" />
<line x1="146.50" y1="57.00" x2="148.70" y2="57.00" stroke="#2a2a2a" stroke-width="0.8" />
<line x1="153.90" y1="50.00" x2="153.90" y2="54.00" stroke="#2a2a2a" stroke-width="0.8" />
<line x1="152.80" y1="50.00" x2="155.00" y2="50.00" stroke="#2a2a2a" stroke-width="0.8" />
<line x1="152.80" y1="54.00" x2="155.00" y2="54.00" stroke="#2a2a2a" stroke-width="0.8" />
<line x1="160.20" y1="44.00" x2="160.20" y2="50.00" stroke="#2a2a2a" stroke-width="0.8" />
<line x1="159.10" y1="44.00" x2="161.30" y2="44.00" stroke="#2a2a2a" stroke-width="0.8" />
<line x1="159.10" y1="50.00" x2="161.30" y2="50.00" stroke="#2a2a2a" stroke-width="0.8" />
<line x1="166.50" y1="41.90" x2="166.50" y2="55.60" stroke="#2a2a2a" stroke-width="0.8" />
<line x1="165.40" y1="41.90" x2="167.60" y2="41.90" stroke="#2a2a2a" stroke-width="0.8" />
<line x1="165.40" y1="55.60" x2="167.60" y2="55.60" stroke="#2a2a2a" stroke-width="0.8" />
<path d="M46.80 57.25 L53.10 55.00 L59.40 51.90 L65.70 48.75 L72.00 48.10 L78.30 46.90 L84.60 52.50 L90.90 52.25 L97.20 55.00 L103.50 54.40 L109.80 55.00 L116.10 54.00 L122.40 53.10 L128.70 55.00 L135.00 53.75 L141.30 53.50 L147.60 53.50 L153.90 51.90 L160.20 46.90 L166.50 47.25" fill="none" stroke="#111" stroke-width="1.0"/>
<path d="M46.80 55.55L48.50 57.25L46.80 58.95L45.10 57.25Z" fill="#111" stroke="#111" stroke-width="0.4"/>
<path d="M53.10 53.30L54.80 55.00L53.10 56.70L51.40 55.00Z" fill="#111" stroke="#111" stroke-width="0.4"/>
<path d="M59.40 50.20L61.10 51.90L59.40 53.60L57.70 51.90Z" fill="#111" stroke="#111" stroke-width="0.4"/>
<path d="M65.70 47.05L67.40 48.75L65.70 50.45L64.00 48.75Z" fill="#111" stroke="#111" stroke-width="0.4"/>
<path d="M72.00 46.40L73.70 48.10L72.00 49.80L70.30 48.10Z" fill="#111" stroke="#111" stroke-width="0.4"/>
<path d="M78.30 45.20L80.00 46.90L78.30 48.60L76.60 46.90Z" fill="#111" stroke="#111" stroke-width="0.4"/>
<path d="M84.60 50.80L86.30 52.50L84.60 54.20L82.90 52.50Z" fill="#111" stroke="#111" stroke-width="0.4"/>
<path d="M90.90 50.55L92.60 52.25L90.90 53.95L89.20 52.25Z" fill="#111" stroke="#111" stroke-width="0.4"/>
<path d="M97.20 53.30L98.90 55.00L97.20 56.70L95.50 55.00Z" fill="#111" stroke="#111" stroke-width="0.4"/>
<path d="M103.50 52.70L105.20 54.40L103.50 56.10L101.80 54.40Z" fill="#111" stroke="#111" stroke-width="0.4"/>
<path d="M109.80 53.30L111.50 55.00L109.80 56.70L108.10 55.00Z" fill="#111" stroke="#111" stroke-width="0.4"/>
<path d="M116.10 52.30L117.80 54.00L116.10 55.70L114.40 54.00Z" fill="#111" stroke="#111" stroke-width="0.4"/>
<path d="M122.40 51.40L124.10 53.10L122.40 54.80L120.70 53.10Z" fill="#111" stroke="#111" stroke-width="0.4"/>
<path d="M128.70 53.30L130.40 55.00L128.70 56.70L127.00 55.00Z" fill="#111" stroke="#111" stroke-width="0.4"/>
<path d="M135.00 52.05L136.70 53.75L135.00 55.45L133.30 53.75Z" fill="#111" stroke="#111" stroke-width="0.4"/>
<path d="M141.30 51.80L143.00 53.50L141.30 55.20L139.60 53.50Z" fill="#111" stroke="#111" stroke-width="0.4"/>
<path d="M147.60 51.80L149.30 53.50L147.60 55.20L145.90 53.50Z" fill="#111" stroke="#111" stroke-width="0.4"/>
<path d="M153.90 50.20L155.60 51.90L153.90 53.60L152.20 51.90Z" fill="#111" stroke="#111" stroke-width="0.4"/>
<path d="M160.20 45.20L161.90 46.90L160.20 48.60L158.50 46.90Z" fill="#111" stroke="#111" stroke-width="0.4"/>
<path d="M166.50 45.55L168.20 47.25L166.50 48.95L164.80 47.25Z" fill="#111" stroke="#111" stroke-width="0.4"/>
<path d="M28.90 137.25L30.80 135.80L32.70 137.25L30.80 138.70Z" fill="#111"/>
<text x="35.90" y="136.75" font-size="3.2" text-anchor="start" font-weight="bold" fill="#111" stroke="#111" stroke-width="0.16" textLength="37.50" lengthAdjust="spacingAndGlyphs" >Systolic Blood Pressure</text>
<text x="35.90" y="140.55" font-size="3.2" text-anchor="start" font-weight="bold" fill="#111" stroke="#111" stroke-width="0.16" >Vehicle Group</text>
<path d="M28.90 145.40L30.80 143.95L32.70 145.40L30.80 146.85Z" fill="#111"/>
<text x="35.90" y="144.90" font-size="3.2" text-anchor="start" font-weight="bold" fill="#111" stroke="#111" stroke-width="0.16" textLength="38.60" lengthAdjust="spacingAndGlyphs" >Diastolic Blood Pressure</text>
<text x="35.90" y="148.65" font-size="3.2" text-anchor="start" font-weight="bold" fill="#111" stroke="#111" stroke-width="0.16" >Vehicle Group</text>
<path d="M89.25 137.50L91.10 136.10L92.95 137.50L91.10 138.90Z" fill="#fff" stroke="#111" stroke-width="1.0"/>
<text x="96.00" y="136.50" font-size="3.2" text-anchor="start" font-weight="bold" fill="#111" stroke="#111" stroke-width="0.16" textLength="36.75" lengthAdjust="spacingAndGlyphs" >Systolic Blood Pressure</text>
<text x="96.00" y="140.25" font-size="3.2" text-anchor="start" font-weight="bold" fill="#111" stroke="#111" stroke-width="0.16" >Valsartan Group</text>
<path d="M89.25 145.50L91.10 144.10L92.95 145.50L91.10 146.90Z" fill="#fff" stroke="#111" stroke-width="1.0"/>
<text x="96.00" y="144.75" font-size="3.2" text-anchor="start" font-weight="bold" fill="#111" stroke="#111" stroke-width="0.16" textLength="37.75" lengthAdjust="spacingAndGlyphs" >Diastolic Blood Pressure</text>
<text x="96.00" y="148.50" font-size="3.2" text-anchor="start" font-weight="bold" fill="#111" stroke="#111" stroke-width="0.16" >Valsartan Group</text>
<text x="36.25" y="155.07" font-size="3.8" text-anchor="start" font-weight="bold" fill="#111" stroke="#111" stroke-width="0.16" textLength="41.25" lengthAdjust="spacingAndGlyphs" >Values are Means ± SD</text>
<line x1="235.20" y1="32.56" x2="396.00" y2="32.56" stroke="#cfcfcf" stroke-width="0.8" />
<line x1="235.20" y1="59.63" x2="396.00" y2="59.63" stroke="#cfcfcf" stroke-width="0.8" />
<line x1="235.20" y1="86.70" x2="396.00" y2="86.70" stroke="#cfcfcf" stroke-width="0.8" />
<line x1="234.70" y1="5.00" x2="234.70" y2="114.35" stroke="#111" stroke-width="1.15" />
<line x1="234.10" y1="113.75" x2="396.00" y2="113.75" stroke="#111" stroke-width="1.15" />
<line x1="233.40" y1="5.50" x2="234.60" y2="5.50" stroke="#1a1a1a" stroke-width="0.7" />
<text x="232.95" y="7.88" font-size="5.5" text-anchor="end" font-weight="bold" fill="#1a1a1a" stroke="#1a1a1a" stroke-width="0.15" >450</text>
<line x1="233.40" y1="32.56" x2="234.60" y2="32.56" stroke="#1a1a1a" stroke-width="0.7" />
<text x="232.95" y="34.94" font-size="5.5" text-anchor="end" font-weight="bold" fill="#1a1a1a" stroke="#1a1a1a" stroke-width="0.15" >400</text>
<line x1="233.40" y1="59.63" x2="234.60" y2="59.63" stroke="#1a1a1a" stroke-width="0.7" />
<text x="232.95" y="62.01" font-size="5.5" text-anchor="end" font-weight="bold" fill="#1a1a1a" stroke="#1a1a1a" stroke-width="0.15" >350</text>
<line x1="233.40" y1="86.70" x2="234.60" y2="86.70" stroke="#1a1a1a" stroke-width="0.7" />
<text x="232.95" y="89.08" font-size="5.5" text-anchor="end" font-weight="bold" fill="#1a1a1a" stroke="#1a1a1a" stroke-width="0.15" >300</text>
<line x1="233.40" y1="113.76" x2="234.60" y2="113.76" stroke="#1a1a1a" stroke-width="0.7" />
<text x="232.95" y="116.14" font-size="5.5" text-anchor="end" font-weight="bold" fill="#1a1a1a" stroke="#1a1a1a" stroke-width="0.15" >250</text>
<line x1="234.84" y1="113.75" x2="234.84" y2="115.05" stroke="#1a1a1a" stroke-width="0.7" />
<text x="234.84" y="121.53" font-size="5.5" text-anchor="middle" font-weight="bold" fill="#1a1a1a" stroke="#1a1a1a" stroke-width="0.15" >-10</text>
<line x1="267.12" y1="113.75" x2="267.12" y2="115.05" stroke="#1a1a1a" stroke-width="0.7" />
<text x="267.12" y="121.53" font-size="5.5" text-anchor="middle" font-weight="bold" fill="#1a1a1a" stroke="#1a1a1a" stroke-width="0.15" >-5</text>
<line x1="299.40" y1="113.75" x2="299.40" y2="115.05" stroke="#1a1a1a" stroke-width="0.7" />
<text x="299.40" y="121.53" font-size="5.5" text-anchor="middle" font-weight="bold" fill="#1a1a1a" stroke="#1a1a1a" stroke-width="0.15" >0</text>
<line x1="331.68" y1="113.75" x2="331.68" y2="115.05" stroke="#1a1a1a" stroke-width="0.7" />
<text x="331.68" y="121.53" font-size="5.5" text-anchor="middle" font-weight="bold" fill="#1a1a1a" stroke="#1a1a1a" stroke-width="0.15" >5</text>
<line x1="363.96" y1="113.75" x2="363.96" y2="115.05" stroke="#1a1a1a" stroke-width="0.7" />
<text x="363.96" y="121.53" font-size="5.5" text-anchor="middle" font-weight="bold" fill="#1a1a1a" stroke="#1a1a1a" stroke-width="0.15" >10</text>
<line x1="396.24" y1="113.75" x2="396.24" y2="115.05" stroke="#1a1a1a" stroke-width="0.7" />
<text x="396.24" y="121.53" font-size="5.5" text-anchor="middle" font-weight="bold" fill="#1a1a1a" stroke="#1a1a1a" stroke-width="0.15" >15</text>
<line x1="299.40" y1="15.20" x2="299.40" y2="113.75" stroke="#222" stroke-width="0.9" stroke-dasharray="1.2 1.7"/>
<path d="M297.50 11.70L301.30 11.70L299.40 13.70Z" fill="#222"/>
<text x="285.60" y="5.80" font-size="6.50" text-anchor="start" font-weight="bold" fill="#111" stroke="#111" stroke-width="0.18" textLength="59.65" lengthAdjust="spacingAndGlyphs" >Daytime Heart Rate</text>
<text x="308.10" y="129.83" font-size="5.36" text-anchor="start" font-weight="bold" fill="#111" stroke="#111" stroke-width="0.25" textLength="14.40" lengthAdjust="spacingAndGlyphs" >DAYS</text>
<text x="0" y="0" font-size="5.40" font-weight="bold" text-anchor="middle" fill="#111" stroke="#111" stroke-width="0.15" textLength="26.80" lengthAdjust="spacingAndGlyphs" transform="translate(218.04 57.70) rotate(-90)">Beats/min</text>
<line x1="260.66" y1="73.00" x2="260.66" y2="82.50" stroke="#2a2a2a" stroke-width="0.8" />
<line x1="259.56" y1="73.00" x2="261.76" y2="73.00" stroke="#2a2a2a" stroke-width="0.8" />
<line x1="259.56" y1="82.50" x2="261.76" y2="82.50" stroke="#2a2a2a" stroke-width="0.8" />
<line x1="267.12" y1="71.00" x2="267.12" y2="83.00" stroke="#2a2a2a" stroke-width="0.8" />
<line x1="266.02" y1="71.00" x2="268.22" y2="71.00" stroke="#2a2a2a" stroke-width="0.8" />
<line x1="266.02" y1="83.00" x2="268.22" y2="83.00" stroke="#2a2a2a" stroke-width="0.8" />
<line x1="273.58" y1="67.00" x2="273.58" y2="78.00" stroke="#2a2a2a" stroke-width="0.8" />
<line x1="272.48" y1="67.00" x2="274.68" y2="67.00" stroke="#2a2a2a" stroke-width="0.8" />
<line x1="272.48" y1="78.00" x2="274.68" y2="78.00" stroke="#2a2a2a" stroke-width="0.8" />
<line x1="280.03" y1="70.00" x2="280.03" y2="81.00" stroke="#2a2a2a" stroke-width="0.8" />
<line x1="278.93" y1="70.00" x2="281.13" y2="70.00" stroke="#2a2a2a" stroke-width="0.8" />
<line x1="278.93" y1="81.00" x2="281.13" y2="81.00" stroke="#2a2a2a" stroke-width="0.8" />
<line x1="286.49" y1="41.50" x2="286.49" y2="50.00" stroke="#2a2a2a" stroke-width="0.8" />
<line x1="285.39" y1="41.50" x2="287.59" y2="41.50" stroke="#2a2a2a" stroke-width="0.8" />
<line x1="285.39" y1="50.00" x2="287.59" y2="50.00" stroke="#2a2a2a" stroke-width="0.8" />
<line x1="292.94" y1="55.00" x2="292.94" y2="65.00" stroke="#2a2a2a" stroke-width="0.8" />
<line x1="291.84" y1="55.00" x2="294.04" y2="55.00" stroke="#2a2a2a" stroke-width="0.8" />
<line x1="291.84" y1="65.00" x2="294.04" y2="65.00" stroke="#2a2a2a" stroke-width="0.8" />
<line x1="299.40" y1="69.00" x2="299.40" y2="80.00" stroke="#2a2a2a" stroke-width="0.8" />
<line x1="298.30" y1="69.00" x2="300.50" y2="69.00" stroke="#2a2a2a" stroke-width="0.8" />
<line x1="298.30" y1="80.00" x2="300.50" y2="80.00" stroke="#2a2a2a" stroke-width="0.8" />
<line x1="305.86" y1="64.00" x2="305.86" y2="74.00" stroke="#2a2a2a" stroke-width="0.8" />
<line x1="304.76" y1="64.00" x2="306.96" y2="64.00" stroke="#2a2a2a" stroke-width="0.8" />
<line x1="304.76" y1="74.00" x2="306.96" y2="74.00" stroke="#2a2a2a" stroke-width="0.8" />
<line x1="312.31" y1="67.00" x2="312.31" y2="77.50" stroke="#2a2a2a" stroke-width="0.8" />
<line x1="311.21" y1="67.00" x2="313.41" y2="67.00" stroke="#2a2a2a" stroke-width="0.8" />
<line x1="311.21" y1="77.50" x2="313.41" y2="77.50" stroke="#2a2a2a" stroke-width="0.8" />
<line x1="318.77" y1="64.00" x2="318.77" y2="75.00" stroke="#2a2a2a" stroke-width="0.8" />
<line x1="317.67" y1="64.00" x2="319.87" y2="64.00" stroke="#2a2a2a" stroke-width="0.8" />
<line x1="317.67" y1="75.00" x2="319.87" y2="75.00" stroke="#2a2a2a" stroke-width="0.8" />
<line x1="325.22" y1="65.00" x2="325.22" y2="76.50" stroke="#2a2a2a" stroke-width="0.8" />
<line x1="324.12" y1="65.00" x2="326.32" y2="65.00" stroke="#2a2a2a" stroke-width="0.8" />
<line x1="324.12" y1="76.50" x2="326.32" y2="76.50" stroke="#2a2a2a" stroke-width="0.8" />
<line x1="331.68" y1="70.00" x2="331.68" y2="80.50" stroke="#2a2a2a" stroke-width="0.8" />
<line x1="330.58" y1="70.00" x2="332.78" y2="70.00" stroke="#2a2a2a" stroke-width="0.8" />
<line x1="330.58" y1="80.50" x2="332.78" y2="80.50" stroke="#2a2a2a" stroke-width="0.8" />
<line x1="338.14" y1="67.00" x2="338.14" y2="77.50" stroke="#2a2a2a" stroke-width="0.8" />
<line x1="337.04" y1="67.00" x2="339.24" y2="67.00" stroke="#2a2a2a" stroke-width="0.8" />
<line x1="337.04" y1="77.50" x2="339.24" y2="77.50" stroke="#2a2a2a" stroke-width="0.8" />
<line x1="344.59" y1="75.00" x2="344.59" y2="84.00" stroke="#2a2a2a" stroke-width="0.8" />
<line x1="343.49" y1="75.00" x2="345.69" y2="75.00" stroke="#2a2a2a" stroke-width="0.8" />
<line x1="343.49" y1="84.00" x2="345.69" y2="84.00" stroke="#2a2a2a" stroke-width="0.8" />
<line x1="351.05" y1="74.00" x2="351.05" y2="84.50" stroke="#2a2a2a" stroke-width="0.8" />
<line x1="349.95" y1="74.00" x2="352.15" y2="74.00" stroke="#2a2a2a" stroke-width="0.8" />
<line x1="349.95" y1="84.50" x2="352.15" y2="84.50" stroke="#2a2a2a" stroke-width="0.8" />
<line x1="357.50" y1="74.00" x2="357.50" y2="84.00" stroke="#2a2a2a" stroke-width="0.8" />
<line x1="356.40" y1="74.00" x2="358.60" y2="74.00" stroke="#2a2a2a" stroke-width="0.8" />
<line x1="356.40" y1="84.00" x2="358.60" y2="84.00" stroke="#2a2a2a" stroke-width="0.8" />
<line x1="363.96" y1="76.00" x2="363.96" y2="85.00" stroke="#2a2a2a" stroke-width="0.8" />
<line x1="362.86" y1="76.00" x2="365.06" y2="76.00" stroke="#2a2a2a" stroke-width="0.8" />
<line x1="362.86" y1="85.00" x2="365.06" y2="85.00" stroke="#2a2a2a" stroke-width="0.8" />
<line x1="370.42" y1="67.00" x2="370.42" y2="78.00" stroke="#2a2a2a" stroke-width="0.8" />
<line x1="369.32" y1="67.00" x2="371.52" y2="67.00" stroke="#2a2a2a" stroke-width="0.8" />
<line x1="369.32" y1="78.00" x2="371.52" y2="78.00" stroke="#2a2a2a" stroke-width="0.8" />
<line x1="376.87" y1="64.00" x2="376.87" y2="74.00" stroke="#2a2a2a" stroke-width="0.8" />
<line x1="375.77" y1="64.00" x2="377.97" y2="64.00" stroke="#2a2a2a" stroke-width="0.8" />
<line x1="375.77" y1="74.00" x2="377.97" y2="74.00" stroke="#2a2a2a" stroke-width="0.8" />
<line x1="383.33" y1="69.00" x2="383.33" y2="78.50" stroke="#2a2a2a" stroke-width="0.8" />
<line x1="382.23" y1="69.00" x2="384.43" y2="69.00" stroke="#2a2a2a" stroke-width="0.8" />
<line x1="382.23" y1="78.50" x2="384.43" y2="78.50" stroke="#2a2a2a" stroke-width="0.8" />
<path d="M260.66 78.10 L267.12 77.00 L273.58 72.50 L280.03 75.50 L286.49 45.00 L292.94 60.00 L299.40 75.00 L305.86 69.00 L312.31 72.50 L318.77 69.50 L325.22 71.00 L331.68 75.50 L338.14 72.50 L344.59 79.40 L351.05 79.00 L357.50 79.00 L363.96 80.60 L370.42 72.50 L376.87 69.00 L383.33 73.75" fill="none" stroke="#1a1a1a" stroke-width="0.7" stroke-dasharray="1.4 0.6"/>
<path d="M260.66 76.50L262.26 78.10L260.66 79.70L259.06 78.10Z" fill="#fff" stroke="#111" stroke-width="0.9"/>
<path d="M267.12 75.40L268.72 77.00L267.12 78.60L265.52 77.00Z" fill="#fff" stroke="#111" stroke-width="0.9"/>
<path d="M273.58 70.90L275.18 72.50L273.58 74.10L271.98 72.50Z" fill="#fff" stroke="#111" stroke-width="0.9"/>
<path d="M280.03 73.90L281.63 75.50L280.03 77.10L278.43 75.50Z" fill="#fff" stroke="#111" stroke-width="0.9"/>
<path d="M286.49 43.40L288.09 45.00L286.49 46.60L284.89 45.00Z" fill="#fff" stroke="#111" stroke-width="0.9"/>
<path d="M292.94 58.40L294.54 60.00L292.94 61.60L291.34 60.00Z" fill="#fff" stroke="#111" stroke-width="0.9"/>
<path d="M299.40 73.40L301.00 75.00L299.40 76.60L297.80 75.00Z" fill="#fff" stroke="#111" stroke-width="0.9"/>
<path d="M305.86 67.40L307.46 69.00L305.86 70.60L304.26 69.00Z" fill="#fff" stroke="#111" stroke-width="0.9"/>
<path d="M312.31 70.90L313.91 72.50L312.31 74.10L310.71 72.50Z" fill="#fff" stroke="#111" stroke-width="0.9"/>
<path d="M318.77 67.90L320.37 69.50L318.77 71.10L317.17 69.50Z" fill="#fff" stroke="#111" stroke-width="0.9"/>
<path d="M325.22 69.40L326.82 71.00L325.22 72.60L323.62 71.00Z" fill="#fff" stroke="#111" stroke-width="0.9"/>
<path d="M331.68 73.90L333.28 75.50L331.68 77.10L330.08 75.50Z" fill="#fff" stroke="#111" stroke-width="0.9"/>
<path d="M338.14 70.90L339.74 72.50L338.14 74.10L336.54 72.50Z" fill="#fff" stroke="#111" stroke-width="0.9"/>
<path d="M344.59 77.80L346.19 79.40L344.59 81.00L342.99 79.40Z" fill="#fff" stroke="#111" stroke-width="0.9"/>
<path d="M351.05 77.40L352.65 79.00L351.05 80.60L349.45 79.00Z" fill="#fff" stroke="#111" stroke-width="0.9"/>
<path d="M357.50 77.40L359.10 79.00L357.50 80.60L355.90 79.00Z" fill="#fff" stroke="#111" stroke-width="0.9"/>
<path d="M363.96 79.00L365.56 80.60L363.96 82.20L362.36 80.60Z" fill="#fff" stroke="#111" stroke-width="0.9"/>
<path d="M370.42 70.90L372.02 72.50L370.42 74.10L368.82 72.50Z" fill="#fff" stroke="#111" stroke-width="0.9"/>
<path d="M376.87 67.40L378.47 69.00L376.87 70.60L375.27 69.00Z" fill="#fff" stroke="#111" stroke-width="0.9"/>
<path d="M383.33 72.15L384.93 73.75L383.33 75.35L381.73 73.75Z" fill="#fff" stroke="#111" stroke-width="0.9"/>
<line x1="260.66" y1="66.90" x2="260.66" y2="82.50" stroke="#2a2a2a" stroke-width="0.8" />
<line x1="259.56" y1="66.90" x2="261.76" y2="66.90" stroke="#2a2a2a" stroke-width="0.8" />
<line x1="259.56" y1="82.50" x2="261.76" y2="82.50" stroke="#2a2a2a" stroke-width="0.8" />
<line x1="267.12" y1="65.60" x2="267.12" y2="86.00" stroke="#2a2a2a" stroke-width="0.8" />
<line x1="266.02" y1="65.60" x2="268.22" y2="65.60" stroke="#2a2a2a" stroke-width="0.8" />
<line x1="266.02" y1="86.00" x2="268.22" y2="86.00" stroke="#2a2a2a" stroke-width="0.8" />
<line x1="273.58" y1="61.50" x2="273.58" y2="80.60" stroke="#2a2a2a" stroke-width="0.8" />
<line x1="272.48" y1="61.50" x2="274.68" y2="61.50" stroke="#2a2a2a" stroke-width="0.8" />
<line x1="272.48" y1="80.60" x2="274.68" y2="80.60" stroke="#2a2a2a" stroke-width="0.8" />
<line x1="280.03" y1="65.00" x2="280.03" y2="84.40" stroke="#2a2a2a" stroke-width="0.8" />
<line x1="278.93" y1="65.00" x2="281.13" y2="65.00" stroke="#2a2a2a" stroke-width="0.8" />
<line x1="278.93" y1="84.40" x2="281.13" y2="84.40" stroke="#2a2a2a" stroke-width="0.8" />
<line x1="286.49" y1="41.50" x2="286.49" y2="62.00" stroke="#2a2a2a" stroke-width="0.8" />
<line x1="285.39" y1="41.50" x2="287.59" y2="41.50" stroke="#2a2a2a" stroke-width="0.8" />
<line x1="285.39" y1="62.00" x2="287.59" y2="62.00" stroke="#2a2a2a" stroke-width="0.8" />
<line x1="292.94" y1="52.50" x2="292.94" y2="66.25" stroke="#2a2a2a" stroke-width="0.8" />
<line x1="291.84" y1="52.50" x2="294.04" y2="52.50" stroke="#2a2a2a" stroke-width="0.8" />
<line x1="291.84" y1="66.25" x2="294.04" y2="66.25" stroke="#2a2a2a" stroke-width="0.8" />
<line x1="299.40" y1="63.00" x2="299.40" y2="76.00" stroke="#2a2a2a" stroke-width="0.8" />
<line x1="298.30" y1="63.00" x2="300.50" y2="63.00" stroke="#2a2a2a" stroke-width="0.8" />
<line x1="298.30" y1="76.00" x2="300.50" y2="76.00" stroke="#2a2a2a" stroke-width="0.8" />
<line x1="305.86" y1="61.90" x2="305.86" y2="73.75" stroke="#2a2a2a" stroke-width="0.8" />
<line x1="304.76" y1="61.90" x2="306.96" y2="61.90" stroke="#2a2a2a" stroke-width="0.8" />
<line x1="304.76" y1="73.75" x2="306.96" y2="73.75" stroke="#2a2a2a" stroke-width="0.8" />
<line x1="312.31" y1="65.60" x2="312.31" y2="77.75" stroke="#2a2a2a" stroke-width="0.8" />
<line x1="311.21" y1="65.60" x2="313.41" y2="65.60" stroke="#2a2a2a" stroke-width="0.8" />
<line x1="311.21" y1="77.75" x2="313.41" y2="77.75" stroke="#2a2a2a" stroke-width="0.8" />
<line x1="318.77" y1="61.25" x2="318.77" y2="79.40" stroke="#2a2a2a" stroke-width="0.8" />
<line x1="317.67" y1="61.25" x2="319.87" y2="61.25" stroke="#2a2a2a" stroke-width="0.8" />
<line x1="317.67" y1="79.40" x2="319.87" y2="79.40" stroke="#2a2a2a" stroke-width="0.8" />
<line x1="325.22" y1="61.90" x2="325.22" y2="77.50" stroke="#2a2a2a" stroke-width="0.8" />
<line x1="324.12" y1="61.90" x2="326.32" y2="61.90" stroke="#2a2a2a" stroke-width="0.8" />
<line x1="324.12" y1="77.50" x2="326.32" y2="77.50" stroke="#2a2a2a" stroke-width="0.8" />
<line x1="331.68" y1="68.50" x2="331.68" y2="80.60" stroke="#2a2a2a" stroke-width="0.8" />
<line x1="330.58" y1="68.50" x2="332.78" y2="68.50" stroke="#2a2a2a" stroke-width="0.8" />
<line x1="330.58" y1="80.60" x2="332.78" y2="80.60" stroke="#2a2a2a" stroke-width="0.8" />
<line x1="338.14" y1="64.75" x2="338.14" y2="77.75" stroke="#2a2a2a" stroke-width="0.8" />
<line x1="337.04" y1="64.75" x2="339.24" y2="64.75" stroke="#2a2a2a" stroke-width="0.8" />
<line x1="337.04" y1="77.75" x2="339.24" y2="77.75" stroke="#2a2a2a" stroke-width="0.8" />
<line x1="344.59" y1="72.50" x2="344.59" y2="84.40" stroke="#2a2a2a" stroke-width="0.8" />
<line x1="343.49" y1="72.50" x2="345.69" y2="72.50" stroke="#2a2a2a" stroke-width="0.8" />
<line x1="343.49" y1="84.40" x2="345.69" y2="84.40" stroke="#2a2a2a" stroke-width="0.8" />
<line x1="351.05" y1="70.00" x2="351.05" y2="87.25" stroke="#2a2a2a" stroke-width="0.8" />
<line x1="349.95" y1="70.00" x2="352.15" y2="70.00" stroke="#2a2a2a" stroke-width="0.8" />
<line x1="349.95" y1="87.25" x2="352.15" y2="87.25" stroke="#2a2a2a" stroke-width="0.8" />
<line x1="357.50" y1="71.50" x2="357.50" y2="86.50" stroke="#2a2a2a" stroke-width="0.8" />
<line x1="356.40" y1="71.50" x2="358.60" y2="71.50" stroke="#2a2a2a" stroke-width="0.8" />
<line x1="356.40" y1="86.50" x2="358.60" y2="86.50" stroke="#2a2a2a" stroke-width="0.8" />
<line x1="363.96" y1="66.25" x2="363.96" y2="85.25" stroke="#2a2a2a" stroke-width="0.8" />
<line x1="362.86" y1="66.25" x2="365.06" y2="66.25" stroke="#2a2a2a" stroke-width="0.8" />
<line x1="362.86" y1="85.25" x2="365.06" y2="85.25" stroke="#2a2a2a" stroke-width="0.8" />
<line x1="370.42" y1="56.25" x2="370.42" y2="87.25" stroke="#2a2a2a" stroke-width="0.8" />
<line x1="369.32" y1="56.25" x2="371.52" y2="56.25" stroke="#2a2a2a" stroke-width="0.8" />
<line x1="369.32" y1="87.25" x2="371.52" y2="87.25" stroke="#2a2a2a" stroke-width="0.8" />
<line x1="376.87" y1="61.25" x2="376.87" y2="75.00" stroke="#2a2a2a" stroke-width="0.8" />
<line x1="375.77" y1="61.25" x2="377.97" y2="61.25" stroke="#2a2a2a" stroke-width="0.8" />
<line x1="375.77" y1="75.00" x2="377.97" y2="75.00" stroke="#2a2a2a" stroke-width="0.8" />
<line x1="383.33" y1="63.10" x2="383.33" y2="78.10" stroke="#2a2a2a" stroke-width="0.8" />
<line x1="382.23" y1="63.10" x2="384.43" y2="63.10" stroke="#2a2a2a" stroke-width="0.8" />
<line x1="382.23" y1="78.10" x2="384.43" y2="78.10" stroke="#2a2a2a" stroke-width="0.8" />
<path d="M260.66 74.40 L267.12 76.00 L273.58 71.00 L280.03 74.40 L286.49 52.20 L292.94 56.40 L299.40 69.40 L305.86 67.75 L312.31 71.50 L318.77 68.10 L325.22 70.00 L331.68 74.40 L338.14 71.00 L344.59 76.90 L351.05 76.00 L357.50 76.00 L363.96 75.00 L370.42 80.00 L376.87 67.50 L383.33 69.75" fill="none" stroke="#111" stroke-width="1.0"/>
<circle cx="260.66" cy="74.40" r="1.45" fill="#111" stroke="#111" stroke-width="0.6"/>
<circle cx="267.12" cy="76.00" r="1.45" fill="#111" stroke="#111" stroke-width="0.6"/>
<circle cx="273.58" cy="71.00" r="1.45" fill="#111" stroke="#111" stroke-width="0.6"/>
<circle cx="280.03" cy="74.40" r="1.45" fill="#111" stroke="#111" stroke-width="0.6"/>
<circle cx="286.49" cy="52.20" r="1.45" fill="#111" stroke="#111" stroke-width="0.6"/>
<circle cx="292.94" cy="56.40" r="1.45" fill="#111" stroke="#111" stroke-width="0.6"/>
<circle cx="299.40" cy="69.40" r="1.45" fill="#111" stroke="#111" stroke-width="0.6"/>
<circle cx="305.86" cy="67.75" r="1.45" fill="#111" stroke="#111" stroke-width="0.6"/>
<circle cx="312.31" cy="71.50" r="1.45" fill="#111" stroke="#111" stroke-width="0.6"/>
<circle cx="318.77" cy="68.10" r="1.45" fill="#111" stroke="#111" stroke-width="0.6"/>
<circle cx="325.22" cy="70.00" r="1.45" fill="#111" stroke="#111" stroke-width="0.6"/>
<circle cx="331.68" cy="74.40" r="1.45" fill="#111" stroke="#111" stroke-width="0.6"/>
<circle cx="338.14" cy="71.00" r="1.45" fill="#111" stroke="#111" stroke-width="0.6"/>
<circle cx="344.59" cy="76.90" r="1.45" fill="#111" stroke="#111" stroke-width="0.6"/>
<circle cx="351.05" cy="76.00" r="1.45" fill="#111" stroke="#111" stroke-width="0.6"/>
<circle cx="357.50" cy="76.00" r="1.45" fill="#111" stroke="#111" stroke-width="0.6"/>
<circle cx="363.96" cy="75.00" r="1.45" fill="#111" stroke="#111" stroke-width="0.6"/>
<circle cx="370.42" cy="80.00" r="1.45" fill="#111" stroke="#111" stroke-width="0.6"/>
<circle cx="376.87" cy="67.50" r="1.45" fill="#111" stroke="#111" stroke-width="0.6"/>
<circle cx="383.33" cy="69.75" r="1.45" fill="#111" stroke="#111" stroke-width="0.6"/>
<ellipse cx="245.00" cy="134.75" rx="1.8" ry="1.2" fill="#111"/>
<text x="249.40" y="134.16" font-size="3.35" text-anchor="start" font-weight="bold" fill="#111" stroke="#111" stroke-width="0.16" textLength="16.85" lengthAdjust="spacingAndGlyphs" >Heart Rate</text>
<text x="249.40" y="138.31" font-size="3.35" text-anchor="start" font-weight="bold" fill="#111" stroke="#111" stroke-width="0.16" textLength="21.85" lengthAdjust="spacingAndGlyphs" >Vehicle Group</text>
<path d="M287.05 134.70L288.90 133.30L290.75 134.70L288.90 136.10Z" fill="#fff" stroke="#111" stroke-width="1.0"/>
<text x="293.10" y="133.91" font-size="3.35" text-anchor="start" font-weight="bold" fill="#111" stroke="#111" stroke-width="0.16" textLength="16.85" lengthAdjust="spacingAndGlyphs" >Heart Rate</text>
<text x="293.10" y="137.91" font-size="3.35" text-anchor="start" font-weight="bold" fill="#111" stroke="#111" stroke-width="0.16" textLength="25.90" lengthAdjust="spacingAndGlyphs" >Valsartan Group</text>
<text x="249.40" y="145.00" font-size="3.9" text-anchor="start" font-weight="bold" fill="#111" stroke="#111" stroke-width="0.16" textLength="42.50" lengthAdjust="spacingAndGlyphs" >Values are Means ± SD</text>
<line x1="22.10" y1="204.90" x2="176.25" y2="204.90" stroke="#cfcfcf" stroke-width="0.8" />
<line x1="22.10" y1="239.40" x2="176.25" y2="239.40" stroke="#cfcfcf" stroke-width="0.8" />
<line x1="21.60" y1="170.00" x2="21.60" y2="274.50" stroke="#111" stroke-width="1.15" />
<line x1="21.00" y1="273.90" x2="176.25" y2="273.90" stroke="#111" stroke-width="1.15" />
<line x1="20.30" y1="171.00" x2="21.50" y2="171.00" stroke="#1a1a1a" stroke-width="0.7" />
<text x="19.75" y="173.38" font-size="5.5" text-anchor="end" font-weight="bold" fill="#1a1a1a" stroke="#1a1a1a" stroke-width="0.15" >200</text>
<line x1="20.30" y1="204.90" x2="21.50" y2="204.90" stroke="#1a1a1a" stroke-width="0.7" />
<text x="19.75" y="207.28" font-size="5.5" text-anchor="end" font-weight="bold" fill="#1a1a1a" stroke="#1a1a1a" stroke-width="0.15" >150</text>
<line x1="20.30" y1="239.40" x2="21.50" y2="239.40" stroke="#1a1a1a" stroke-width="0.7" />
<text x="19.75" y="241.78" font-size="5.5" text-anchor="end" font-weight="bold" fill="#1a1a1a" stroke="#1a1a1a" stroke-width="0.15" >100</text>
<line x1="20.30" y1="273.90" x2="21.50" y2="273.90" stroke="#1a1a1a" stroke-width="0.7" />
<text x="19.75" y="276.28" font-size="5.5" text-anchor="end" font-weight="bold" fill="#1a1a1a" stroke="#1a1a1a" stroke-width="0.15" >50</text>
<line x1="21.50" y1="273.90" x2="21.50" y2="275.20" stroke="#1a1a1a" stroke-width="0.7" />
<text x="21.50" y="281.43" font-size="5.5" text-anchor="middle" font-weight="bold" fill="#1a1a1a" stroke="#1a1a1a" stroke-width="0.15" >-10</text>
<line x1="52.45" y1="273.90" x2="52.45" y2="275.20" stroke="#1a1a1a" stroke-width="0.7" />
<text x="52.45" y="281.43" font-size="5.5" text-anchor="middle" font-weight="bold" fill="#1a1a1a" stroke="#1a1a1a" stroke-width="0.15" >-5</text>
<line x1="83.40" y1="273.90" x2="83.40" y2="275.20" stroke="#1a1a1a" stroke-width="0.7" />
<text x="83.40" y="281.43" font-size="5.5" text-anchor="middle" font-weight="bold" fill="#1a1a1a" stroke="#1a1a1a" stroke-width="0.15" >0</text>
<line x1="114.35" y1="273.90" x2="114.35" y2="275.20" stroke="#1a1a1a" stroke-width="0.7" />
<text x="114.35" y="281.43" font-size="5.5" text-anchor="middle" font-weight="bold" fill="#1a1a1a" stroke="#1a1a1a" stroke-width="0.15" >5</text>
<line x1="145.30" y1="273.90" x2="145.30" y2="275.20" stroke="#1a1a1a" stroke-width="0.7" />
<text x="145.30" y="281.43" font-size="5.5" text-anchor="middle" font-weight="bold" fill="#1a1a1a" stroke="#1a1a1a" stroke-width="0.15" >10</text>
<line x1="176.25" y1="273.90" x2="176.25" y2="275.20" stroke="#1a1a1a" stroke-width="0.7" />
<text x="176.25" y="281.43" font-size="5.5" text-anchor="middle" font-weight="bold" fill="#1a1a1a" stroke="#1a1a1a" stroke-width="0.15" >15</text>
<line x1="76.30" y1="178.90" x2="76.30" y2="273.90" stroke="#222" stroke-width="0.9" stroke-dasharray="1.2 1.7"/>
<path d="M74.40 175.40L78.20 175.40L76.30 177.40Z" fill="#222"/>
<text x="61.90" y="171.20" font-size="6.22" text-anchor="start" font-weight="bold" fill="#111" stroke="#111" stroke-width="0.18" textLength="74.35" lengthAdjust="spacingAndGlyphs" >Nightime Blood Pressure</text>
<text x="91.80" y="289.01" font-size="5.17" text-anchor="start" font-weight="bold" fill="#111" stroke="#111" stroke-width="0.25" textLength="13.90" lengthAdjust="spacingAndGlyphs" >DAYS</text>
<text x="0" y="0" font-size="5.70" font-weight="bold" text-anchor="middle" fill="#111" stroke="#111" stroke-width="0.15" textLength="20.00" lengthAdjust="spacingAndGlyphs" transform="translate(5.65 220.60) rotate(-90)">mm Hg</text>
<line x1="49.36" y1="240.00" x2="49.36" y2="245.50" stroke="#2a2a2a" stroke-width="0.8" />
<line x1="48.26" y1="240.00" x2="50.46" y2="240.00" stroke="#2a2a2a" stroke-width="0.8" />
<line x1="48.26" y1="245.50" x2="50.46" y2="245.50" stroke="#2a2a2a" stroke-width="0.8" />
<line x1="55.55" y1="237.00" x2="55.55" y2="243.00" stroke="#2a2a2a" stroke-width="0.8" />
<line x1="54.45" y1="237.00" x2="56.65" y2="237.00" stroke="#2a2a2a" stroke-width="0.8" />
<line x1="54.45" y1="243.00" x2="56.65" y2="243.00" stroke="#2a2a2a" stroke-width="0.8" />
<line x1="61.73" y1="234.00" x2="61.73" y2="240.00" stroke="#2a2a2a" stroke-width="0.8" />
<line x1="60.63" y1="234.00" x2="62.84" y2="234.00" stroke="#2a2a2a" stroke-width="0.8" />
<line x1="60.63" y1="240.00" x2="62.84" y2="240.00" stroke="#2a2a2a" stroke-width="0.8" />
<line x1="67.93" y1="232.00" x2="67.93" y2="238.00" stroke="#2a2a2a" stroke-width="0.8" />
<line x1="66.83" y1="232.00" x2="69.03" y2="232.00" stroke="#2a2a2a" stroke-width="0.8" />
<line x1="66.83" y1="238.00" x2="69.03" y2="238.00" stroke="#2a2a2a" stroke-width="0.8" />
<line x1="74.12" y1="234.50" x2="74.12" y2="240.50" stroke="#2a2a2a" stroke-width="0.8" />
<line x1="73.02" y1="234.50" x2="75.22" y2="234.50" stroke="#2a2a2a" stroke-width="0.8" />
<line x1="73.02" y1="240.50" x2="75.22" y2="240.50" stroke="#2a2a2a" stroke-width="0.8" />
<line x1="80.31" y1="237.00" x2="80.31" y2="244.00" stroke="#2a2a2a" stroke-width="0.8" />
<line x1="79.21" y1="237.00" x2="81.41" y2="237.00" stroke="#2a2a2a" stroke-width="0.8" />
<line x1="79.21" y1="244.00" x2="81.41" y2="244.00" stroke="#2a2a2a" stroke-width="0.8" />
<line x1="86.50" y1="242.00" x2="86.50" y2="248.00" stroke="#2a2a2a" stroke-width="0.8" />
<line x1="85.40" y1="242.00" x2="87.59" y2="242.00" stroke="#2a2a2a" stroke-width="0.8" />
<line x1="85.40" y1="248.00" x2="87.59" y2="248.00" stroke="#2a2a2a" stroke-width="0.8" />
<line x1="92.69" y1="246.50" x2="92.69" y2="251.50" stroke="#2a2a2a" stroke-width="0.8" />
<line x1="91.59" y1="246.50" x2="93.78" y2="246.50" stroke="#2a2a2a" stroke-width="0.8" />
<line x1="91.59" y1="251.50" x2="93.78" y2="251.50" stroke="#2a2a2a" stroke-width="0.8" />
<line x1="98.88" y1="247.00" x2="98.88" y2="251.50" stroke="#2a2a2a" stroke-width="0.8" />
<line x1="97.78" y1="247.00" x2="99.97" y2="247.00" stroke="#2a2a2a" stroke-width="0.8" />
<line x1="97.78" y1="251.50" x2="99.97" y2="251.50" stroke="#2a2a2a" stroke-width="0.8" />
<line x1="105.07" y1="246.00" x2="105.07" y2="251.00" stroke="#2a2a2a" stroke-width="0.8" />
<line x1="103.97" y1="246.00" x2="106.17" y2="246.00" stroke="#2a2a2a" stroke-width="0.8" />
<line x1="103.97" y1="251.00" x2="106.17" y2="251.00" stroke="#2a2a2a" stroke-width="0.8" />
<line x1="111.26" y1="247.50" x2="111.26" y2="252.00" stroke="#2a2a2a" stroke-width="0.8" />
<line x1="110.16" y1="247.50" x2="112.36" y2="247.50" stroke="#2a2a2a" stroke-width="0.8" />
<line x1="110.16" y1="252.00" x2="112.36" y2="252.00" stroke="#2a2a2a" stroke-width="0.8" />
<line x1="117.45" y1="247.50" x2="117.45" y2="252.00" stroke="#2a2a2a" stroke-width="0.8" />
<line x1="116.35" y1="247.50" x2="118.55" y2="247.50" stroke="#2a2a2a" stroke-width="0.8" />
<line x1="116.35" y1="252.00" x2="118.55" y2="252.00" stroke="#2a2a2a" stroke-width="0.8" />
<line x1="123.64" y1="246.50" x2="123.64" y2="251.50" stroke="#2a2a2a" stroke-width="0.8" />
<line x1="122.54" y1="246.50" x2="124.73" y2="246.50" stroke="#2a2a2a" stroke-width="0.8" />
<line x1="122.54" y1="251.50" x2="124.73" y2="251.50" stroke="#2a2a2a" stroke-width="0.8" />
<line x1="129.83" y1="248.00" x2="129.83" y2="252.50" stroke="#2a2a2a" stroke-width="0.8" />
<line x1="128.73" y1="248.00" x2="130.93" y2="248.00" stroke="#2a2a2a" stroke-width="0.8" />
<line x1="128.73" y1="252.50" x2="130.93" y2="252.50" stroke="#2a2a2a" stroke-width="0.8" />
<line x1="136.02" y1="246.00" x2="136.02" y2="251.50" stroke="#2a2a2a" stroke-width="0.8" />
<line x1="134.92" y1="246.00" x2="137.12" y2="246.00" stroke="#2a2a2a" stroke-width="0.8" />
<line x1="134.92" y1="251.50" x2="137.12" y2="251.50" stroke="#2a2a2a" stroke-width="0.8" />
<line x1="142.21" y1="245.50" x2="142.21" y2="252.00" stroke="#2a2a2a" stroke-width="0.8" />
<line x1="141.11" y1="245.50" x2="143.31" y2="245.50" stroke="#2a2a2a" stroke-width="0.8" />
<line x1="141.11" y1="252.00" x2="143.31" y2="252.00" stroke="#2a2a2a" stroke-width="0.8" />
<line x1="148.40" y1="245.50" x2="148.40" y2="250.00" stroke="#2a2a2a" stroke-width="0.8" />
<line x1="147.30" y1="245.50" x2="149.50" y2="245.50" stroke="#2a2a2a" stroke-width="0.8" />
<line x1="147.30" y1="250.00" x2="149.50" y2="250.00" stroke="#2a2a2a" stroke-width="0.8" />
<line x1="154.59" y1="246.00" x2="154.59" y2="250.00" stroke="#2a2a2a" stroke-width="0.8" />
<line x1="153.49" y1="246.00" x2="155.69" y2="246.00" stroke="#2a2a2a" stroke-width="0.8" />
<line x1="153.49" y1="250.00" x2="155.69" y2="250.00" stroke="#2a2a2a" stroke-width="0.8" />
<line x1="160.78" y1="244.50" x2="160.78" y2="249.50" stroke="#2a2a2a" stroke-width="0.8" />
<line x1="159.68" y1="244.50" x2="161.88" y2="244.50" stroke="#2a2a2a" stroke-width="0.8" />
<line x1="159.68" y1="249.50" x2="161.88" y2="249.50" stroke="#2a2a2a" stroke-width="0.8" />
<line x1="166.97" y1="244.50" x2="166.97" y2="250.50" stroke="#2a2a2a" stroke-width="0.8" />
<line x1="165.87" y1="244.50" x2="168.07" y2="244.50" stroke="#2a2a2a" stroke-width="0.8" />
<line x1="165.87" y1="250.50" x2="168.07" y2="250.50" stroke="#2a2a2a" stroke-width="0.8" />
<path d="M49.36 242.60 L55.55 240.10 L61.73 237.00 L67.93 235.10 L74.12 237.60 L80.31 240.50 L86.50 245.10 L92.69 248.90 L98.88 249.25 L105.07 248.50 L111.26 249.75 L117.45 249.75 L123.64 248.90 L129.83 250.10 L136.02 248.90 L142.21 248.90 L148.40 247.60 L154.59 248.00 L160.78 247.00 L166.97 247.60" fill="none" stroke="#1a1a1a" stroke-width="0.7" stroke-dasharray="1.4 0.6"/>
<path d="M49.36 241.00L50.96 242.60L49.36 244.20L47.76 242.60Z" fill="#fff" stroke="#111" stroke-width="0.9"/>
<path d="M55.55 238.50L57.15 240.10L55.55 241.70L53.95 240.10Z" fill="#fff" stroke="#111" stroke-width="0.9"/>
<path d="M61.73 235.40L63.34 237.00L61.73 238.60L60.13 237.00Z" fill="#fff" stroke="#111" stroke-width="0.9"/>
<path d="M67.93 233.50L69.53 235.10L67.93 236.70L66.33 235.10Z" fill="#fff" stroke="#111" stroke-width="0.9"/>
<path d="M74.12 236.00L75.72 237.60L74.12 239.20L72.52 237.60Z" fill="#fff" stroke="#111" stroke-width="0.9"/>
<path d="M80.31 238.90L81.91 240.50L80.31 242.10L78.71 240.50Z" fill="#fff" stroke="#111" stroke-width="0.9"/>
<path d="M86.50 243.50L88.09 245.10L86.50 246.70L84.90 245.10Z" fill="#fff" stroke="#111" stroke-width="0.9"/>
<path d="M92.69 247.30L94.28 248.90L92.69 250.50L91.09 248.90Z" fill="#fff" stroke="#111" stroke-width="0.9"/>
<path d="M98.88 247.65L100.47 249.25L98.88 250.85L97.28 249.25Z" fill="#fff" stroke="#111" stroke-width="0.9"/>
<path d="M105.07 246.90L106.67 248.50L105.07 250.10L103.47 248.50Z" fill="#fff" stroke="#111" stroke-width="0.9"/>
<path d="M111.26 248.15L112.86 249.75L111.26 251.35L109.66 249.75Z" fill="#fff" stroke="#111" stroke-width="0.9"/>
<path d="M117.45 248.15L119.05 249.75L117.45 251.35L115.85 249.75Z" fill="#fff" stroke="#111" stroke-width="0.9"/>
<path d="M123.64 247.30L125.23 248.90L123.64 250.50L122.04 248.90Z" fill="#fff" stroke="#111" stroke-width="0.9"/>
<path d="M129.83 248.50L131.43 250.10L129.83 251.70L128.23 250.10Z" fill="#fff" stroke="#111" stroke-width="0.9"/>
<path d="M136.02 247.30L137.62 248.90L136.02 250.50L134.42 248.90Z" fill="#fff" stroke="#111" stroke-width="0.9"/>
<path d="M142.21 247.30L143.81 248.90L142.21 250.50L140.61 248.90Z" fill="#fff" stroke="#111" stroke-width="0.9"/>
<path d="M148.40 246.00L150.00 247.60L148.40 249.20L146.80 247.60Z" fill="#fff" stroke="#111" stroke-width="0.9"/>
<path d="M154.59 246.40L156.19 248.00L154.59 249.60L152.99 248.00Z" fill="#fff" stroke="#111" stroke-width="0.9"/>
<path d="M160.78 245.40L162.38 247.00L160.78 248.60L159.18 247.00Z" fill="#fff" stroke="#111" stroke-width="0.9"/>
<path d="M166.97 246.00L168.57 247.60L166.97 249.20L165.37 247.60Z" fill="#fff" stroke="#111" stroke-width="0.9"/>
<line x1="49.36" y1="208.00" x2="49.36" y2="216.00" stroke="#2a2a2a" stroke-width="0.8" />
<line x1="48.26" y1="208.00" x2="50.46" y2="208.00" stroke="#2a2a2a" stroke-width="0.8" />
<line x1="48.26" y1="216.00" x2="50.46" y2="216.00" stroke="#2a2a2a" stroke-width="0.8" />
<line x1="55.55" y1="204.00" x2="55.55" y2="212.00" stroke="#2a2a2a" stroke-width="0.8" />
<line x1="54.45" y1="204.00" x2="56.65" y2="204.00" stroke="#2a2a2a" stroke-width="0.8" />
<line x1="54.45" y1="212.00" x2="56.65" y2="212.00" stroke="#2a2a2a" stroke-width="0.8" />
<line x1="61.73" y1="200.50" x2="61.73" y2="208.50" stroke="#2a2a2a" stroke-width="0.8" />
<line x1="60.63" y1="200.50" x2="62.84" y2="200.50" stroke="#2a2a2a" stroke-width="0.8" />
<line x1="60.63" y1="208.50" x2="62.84" y2="208.50" stroke="#2a2a2a" stroke-width="0.8" />
<line x1="67.93" y1="197.00" x2="67.93" y2="206.00" stroke="#2a2a2a" stroke-width="0.8" />
<line x1="66.83" y1="197.00" x2="69.03" y2="197.00" stroke="#2a2a2a" stroke-width="0.8" />
<line x1="66.83" y1="206.00" x2="69.03" y2="206.00" stroke="#2a2a2a" stroke-width="0.8" />
<line x1="74.12" y1="200.00" x2="74.12" y2="209.00" stroke="#2a2a2a" stroke-width="0.8" />
<line x1="73.02" y1="200.00" x2="75.22" y2="200.00" stroke="#2a2a2a" stroke-width="0.8" />
<line x1="73.02" y1="209.00" x2="75.22" y2="209.00" stroke="#2a2a2a" stroke-width="0.8" />
<line x1="80.31" y1="203.00" x2="80.31" y2="212.00" stroke="#2a2a2a" stroke-width="0.8" />
<line x1="79.21" y1="203.00" x2="81.41" y2="203.00" stroke="#2a2a2a" stroke-width="0.8" />
<line x1="79.21" y1="212.00" x2="81.41" y2="212.00" stroke="#2a2a2a" stroke-width="0.8" />
<line x1="86.50" y1="207.00" x2="86.50" y2="217.50" stroke="#2a2a2a" stroke-width="0.8" />
<line x1="85.40" y1="207.00" x2="87.59" y2="207.00" stroke="#2a2a2a" stroke-width="0.8" />
<line x1="85.40" y1="217.50" x2="87.59" y2="217.50" stroke="#2a2a2a" stroke-width="0.8" />
<line x1="92.69" y1="212.50" x2="92.69" y2="221.50" stroke="#2a2a2a" stroke-width="0.8" />
<line x1="91.59" y1="212.50" x2="93.78" y2="212.50" stroke="#2a2a2a" stroke-width="0.8" />
<line x1="91.59" y1="221.50" x2="93.78" y2="221.50" stroke="#2a2a2a" stroke-width="0.8" />
<line x1="98.88" y1="214.00" x2="98.88" y2="222.50" stroke="#2a2a2a" stroke-width="0.8" />
<line x1="97.78" y1="214.00" x2="99.97" y2="214.00" stroke="#2a2a2a" stroke-width="0.8" />
<line x1="97.78" y1="222.50" x2="99.97" y2="222.50" stroke="#2a2a2a" stroke-width="0.8" />
<line x1="105.07" y1="214.00" x2="105.07" y2="222.00" stroke="#2a2a2a" stroke-width="0.8" />
<line x1="103.97" y1="214.00" x2="106.17" y2="214.00" stroke="#2a2a2a" stroke-width="0.8" />
<line x1="103.97" y1="222.00" x2="106.17" y2="222.00" stroke="#2a2a2a" stroke-width="0.8" />
<line x1="111.26" y1="216.00" x2="111.26" y2="223.00" stroke="#2a2a2a" stroke-width="0.8" />
<line x1="110.16" y1="216.00" x2="112.36" y2="216.00" stroke="#2a2a2a" stroke-width="0.8" />
<line x1="110.16" y1="223.00" x2="112.36" y2="223.00" stroke="#2a2a2a" stroke-width="0.8" />
<line x1="117.45" y1="216.50" x2="117.45" y2="223.50" stroke="#2a2a2a" stroke-width="0.8" />
<line x1="116.35" y1="216.50" x2="118.55" y2="216.50" stroke="#2a2a2a" stroke-width="0.8" />
<line x1="116.35" y1="223.50" x2="118.55" y2="223.50" stroke="#2a2a2a" stroke-width="0.8" />
<line x1="123.64" y1="216.00" x2="123.64" y2="223.00" stroke="#2a2a2a" stroke-width="0.8" />
<line x1="122.54" y1="216.00" x2="124.73" y2="216.00" stroke="#2a2a2a" stroke-width="0.8" />
<line x1="122.54" y1="223.00" x2="124.73" y2="223.00" stroke="#2a2a2a" stroke-width="0.8" />
<line x1="129.83" y1="217.00" x2="129.83" y2="224.00" stroke="#2a2a2a" stroke-width="0.8" />
<line x1="128.73" y1="217.00" x2="130.93" y2="217.00" stroke="#2a2a2a" stroke-width="0.8" />
<line x1="128.73" y1="224.00" x2="130.93" y2="224.00" stroke="#2a2a2a" stroke-width="0.8" />
<line x1="136.02" y1="215.00" x2="136.02" y2="224.00" stroke="#2a2a2a" stroke-width="0.8" />
<line x1="134.92" y1="215.00" x2="137.12" y2="215.00" stroke="#2a2a2a" stroke-width="0.8" />
<line x1="134.92" y1="224.00" x2="137.12" y2="224.00" stroke="#2a2a2a" stroke-width="0.8" />
<line x1="142.21" y1="216.00" x2="142.21" y2="224.00" stroke="#2a2a2a" stroke-width="0.8" />
<line x1="141.11" y1="216.00" x2="143.31" y2="216.00" stroke="#2a2a2a" stroke-width="0.8" />
<line x1="141.11" y1="224.00" x2="143.31" y2="224.00" stroke="#2a2a2a" stroke-width="0.8" />
<line x1="148.40" y1="212.50" x2="148.40" y2="222.50" stroke="#2a2a2a" stroke-width="0.8" />
<line x1="147.30" y1="212.50" x2="149.50" y2="212.50" stroke="#2a2a2a" stroke-width="0.8" />
<line x1="147.30" y1="222.50" x2="149.50" y2="222.50" stroke="#2a2a2a" stroke-width="0.8" />
<line x1="154.59" y1="211.25" x2="154.59" y2="221.25" stroke="#2a2a2a" stroke-width="0.8" />
<line x1="153.49" y1="211.25" x2="155.69" y2="211.25" stroke="#2a2a2a" stroke-width="0.8" />
<line x1="153.49" y1="221.25" x2="155.69" y2="221.25" stroke="#2a2a2a" stroke-width="0.8" />
<line x1="160.78" y1="210.60" x2="160.78" y2="220.60" stroke="#2a2a2a" stroke-width="0.8" />
<line x1="159.68" y1="210.60" x2="161.88" y2="210.60" stroke="#2a2a2a" stroke-width="0.8" />
<line x1="159.68" y1="220.60" x2="161.88" y2="220.60" stroke="#2a2a2a" stroke-width="0.8" />
<line x1="166.97" y1="211.25" x2="166.97" y2="222.50" stroke="#2a2a2a" stroke-width="0.8" />
<line x1="165.87" y1="211.25" x2="168.07" y2="211.25" stroke="#2a2a2a" stroke-width="0.8" />
<line x1="165.87" y1="222.50" x2="168.07" y2="222.50" stroke="#2a2a2a" stroke-width="0.8" />
<path d="M49.36 211.25 L55.55 208.00 L61.73 204.40 L67.93 201.25 L74.12 204.40 L80.31 207.25 L86.50 211.90 L92.69 216.90 L98.88 218.10 L105.07 217.75 L111.26 219.40 L117.45 220.00 L123.64 219.40 L129.83 220.60 L136.02 219.75 L142.21 220.00 L148.40 217.75 L154.59 216.25 L160.78 215.60 L166.97 217.75" fill="none" stroke="#1a1a1a" stroke-width="0.7" stroke-dasharray="1.4 0.6"/>
<path d="M49.36 209.65L50.96 211.25L49.36 212.85L47.76 211.25Z" fill="#fff" stroke="#111" stroke-width="0.9"/>
<path d="M55.55 206.40L57.15 208.00L55.55 209.60L53.95 208.00Z" fill="#fff" stroke="#111" stroke-width="0.9"/>
<path d="M61.73 202.80L63.34 204.40L61.73 206.00L60.13 204.40Z" fill="#fff" stroke="#111" stroke-width="0.9"/>
<path d="M67.93 199.65L69.53 201.25L67.93 202.85L66.33 201.25Z" fill="#fff" stroke="#111" stroke-width="0.9"/>
<path d="M74.12 202.80L75.72 204.40L74.12 206.00L72.52 204.40Z" fill="#fff" stroke="#111" stroke-width="0.9"/>
<path d="M80.31 205.65L81.91 207.25L80.31 208.85L78.71 207.25Z" fill="#fff" stroke="#111" stroke-width="0.9"/>
<path d="M86.50 210.30L88.09 211.90L86.50 213.50L84.90 211.90Z" fill="#fff" stroke="#111" stroke-width="0.9"/>
<path d="M92.69 215.30L94.28 216.90L92.69 218.50L91.09 216.90Z" fill="#fff" stroke="#111" stroke-width="0.9"/>
<path d="M98.88 216.50L100.47 218.10L98.88 219.70L97.28 218.10Z" fill="#fff" stroke="#111" stroke-width="0.9"/>
<path d="M105.07 216.15L106.67 217.75L105.07 219.35L103.47 217.75Z" fill="#fff" stroke="#111" stroke-width="0.9"/>
<path d="M111.26 217.80L112.86 219.40L111.26 221.00L109.66 219.40Z" fill="#fff" stroke="#111" stroke-width="0.9"/>
<path d="M117.45 218.40L119.05 220.00L117.45 221.60L115.85 220.00Z" fill="#fff" stroke="#111" stroke-width="0.9"/>
<path d="M123.64 217.80L125.23 219.40L123.64 221.00L122.04 219.40Z" fill="#fff" stroke="#111" stroke-width="0.9"/>
<path d="M129.83 219.00L131.43 220.60L129.83 222.20L128.23 220.60Z" fill="#fff" stroke="#111" stroke-width="0.9"/>
<path d="M136.02 218.15L137.62 219.75L136.02 221.35L134.42 219.75Z" fill="#fff" stroke="#111" stroke-width="0.9"/>
<path d="M142.21 218.40L143.81 220.00L142.21 221.60L140.61 220.00Z" fill="#fff" stroke="#111" stroke-width="0.9"/>
<path d="M148.40 216.15L150.00 217.75L148.40 219.35L146.80 217.75Z" fill="#fff" stroke="#111" stroke-width="0.9"/>
<path d="M154.59 214.65L156.19 216.25L154.59 217.85L152.99 216.25Z" fill="#fff" stroke="#111" stroke-width="0.9"/>
<path d="M160.78 214.00L162.38 215.60L160.78 217.20L159.18 215.60Z" fill="#fff" stroke="#111" stroke-width="0.9"/>
<path d="M166.97 216.15L168.57 217.75L166.97 219.35L165.37 217.75Z" fill="#fff" stroke="#111" stroke-width="0.9"/>
<line x1="49.36" y1="238.00" x2="49.36" y2="245.00" stroke="#2a2a2a" stroke-width="0.8" />
<line x1="48.26" y1="238.00" x2="50.46" y2="238.00" stroke="#2a2a2a" stroke-width="0.8" />
<line x1="48.26" y1="245.00" x2="50.46" y2="245.00" stroke="#2a2a2a" stroke-width="0.8" />
<line x1="55.55" y1="233.25" x2="55.55" y2="242.60" stroke="#2a2a2a" stroke-width="0.8" />
<line x1="54.45" y1="233.25" x2="56.65" y2="233.25" stroke="#2a2a2a" stroke-width="0.8" />
<line x1="54.45" y1="242.60" x2="56.65" y2="242.60" stroke="#2a2a2a" stroke-width="0.8" />
<line x1="61.73" y1="230.00" x2="61.73" y2="239.00" stroke="#2a2a2a" stroke-width="0.8" />
<line x1="60.63" y1="230.00" x2="62.84" y2="230.00" stroke="#2a2a2a" stroke-width="0.8" />
<line x1="60.63" y1="239.00" x2="62.84" y2="239.00" stroke="#2a2a2a" stroke-width="0.8" />
<line x1="67.93" y1="227.60" x2="67.93" y2="238.25" stroke="#2a2a2a" stroke-width="0.8" />
<line x1="66.83" y1="227.60" x2="69.03" y2="227.60" stroke="#2a2a2a" stroke-width="0.8" />
<line x1="66.83" y1="238.25" x2="69.03" y2="238.25" stroke="#2a2a2a" stroke-width="0.8" />
<line x1="74.12" y1="230.00" x2="74.12" y2="242.00" stroke="#2a2a2a" stroke-width="0.8" />
<line x1="73.02" y1="230.00" x2="75.22" y2="230.00" stroke="#2a2a2a" stroke-width="0.8" />
<line x1="73.02" y1="242.00" x2="75.22" y2="242.00" stroke="#2a2a2a" stroke-width="0.8" />
<line x1="80.31" y1="227.60" x2="80.31" y2="242.00" stroke="#2a2a2a" stroke-width="0.8" />
<line x1="79.21" y1="227.60" x2="81.41" y2="227.60" stroke="#2a2a2a" stroke-width="0.8" />
<line x1="79.21" y1="242.00" x2="81.41" y2="242.00" stroke="#2a2a2a" stroke-width="0.8" />
<line x1="86.50" y1="234.50" x2="86.50" y2="247.00" stroke="#2a2a2a" stroke-width="0.8" />
<line x1="85.40" y1="234.50" x2="87.59" y2="234.50" stroke="#2a2a2a" stroke-width="0.8" />
<line x1="85.40" y1="247.00" x2="87.59" y2="247.00" stroke="#2a2a2a" stroke-width="0.8" />
<line x1="92.69" y1="235.00" x2="92.69" y2="242.00" stroke="#2a2a2a" stroke-width="0.8" />
<line x1="91.59" y1="235.00" x2="93.78" y2="235.00" stroke="#2a2a2a" stroke-width="0.8" />
<line x1="91.59" y1="242.00" x2="93.78" y2="242.00" stroke="#2a2a2a" stroke-width="0.8" />
<line x1="98.88" y1="235.00" x2="98.88" y2="242.00" stroke="#2a2a2a" stroke-width="0.8" />
<line x1="97.78" y1="235.00" x2="99.97" y2="235.00" stroke="#2a2a2a" stroke-width="0.8" />
<line x1="97.78" y1="242.00" x2="99.97" y2="242.00" stroke="#2a2a2a" stroke-width="0.8" />
<line x1="105.07" y1="234.50" x2="105.07" y2="242.00" stroke="#2a2a2a" stroke-width="0.8" />
<line x1="103.97" y1="234.50" x2="106.17" y2="234.50" stroke="#2a2a2a" stroke-width="0.8" />
<line x1="103.97" y1="242.00" x2="106.17" y2="242.00" stroke="#2a2a2a" stroke-width="0.8" />
<line x1="111.26" y1="232.00" x2="111.26" y2="243.00" stroke="#2a2a2a" stroke-width="0.8" />
<line x1="110.16" y1="232.00" x2="112.36" y2="232.00" stroke="#2a2a2a" stroke-width="0.8" />
<line x1="110.16" y1="243.00" x2="112.36" y2="243.00" stroke="#2a2a2a" stroke-width="0.8" />
<line x1="117.45" y1="234.00" x2="117.45" y2="242.50" stroke="#2a2a2a" stroke-width="0.8" />
<line x1="116.35" y1="234.00" x2="118.55" y2="234.00" stroke="#2a2a2a" stroke-width="0.8" />
<line x1="116.35" y1="242.50" x2="118.55" y2="242.50" stroke="#2a2a2a" stroke-width="0.8" />
<line x1="123.64" y1="233.00" x2="123.64" y2="242.00" stroke="#2a2a2a" stroke-width="0.8" />
<line x1="122.54" y1="233.00" x2="124.73" y2="233.00" stroke="#2a2a2a" stroke-width="0.8" />
<line x1="122.54" y1="242.00" x2="124.73" y2="242.00" stroke="#2a2a2a" stroke-width="0.8" />
<line x1="129.83" y1="229.50" x2="129.83" y2="243.25" stroke="#2a2a2a" stroke-width="0.8" />
<line x1="128.73" y1="229.50" x2="130.93" y2="229.50" stroke="#2a2a2a" stroke-width="0.8" />
<line x1="128.73" y1="243.25" x2="130.93" y2="243.25" stroke="#2a2a2a" stroke-width="0.8" />
<line x1="136.02" y1="226.40" x2="136.02" y2="252.60" stroke="#2a2a2a" stroke-width="0.8" />
<line x1="134.92" y1="226.40" x2="137.12" y2="226.40" stroke="#2a2a2a" stroke-width="0.8" />
<line x1="134.92" y1="252.60" x2="137.12" y2="252.60" stroke="#2a2a2a" stroke-width="0.8" />
<line x1="142.21" y1="232.60" x2="142.21" y2="242.00" stroke="#2a2a2a" stroke-width="0.8" />
<line x1="141.11" y1="232.60" x2="143.31" y2="232.60" stroke="#2a2a2a" stroke-width="0.8" />
<line x1="141.11" y1="242.00" x2="143.31" y2="242.00" stroke="#2a2a2a" stroke-width="0.8" />
<line x1="148.40" y1="229.50" x2="148.40" y2="237.00" stroke="#2a2a2a" stroke-width="0.8" />
<line x1="147.30" y1="229.50" x2="149.50" y2="229.50" stroke="#2a2a2a" stroke-width="0.8" />
<line x1="147.30" y1="237.00" x2="149.50" y2="237.00" stroke="#2a2a2a" stroke-width="0.8" />
<line x1="154.59" y1="227.60" x2="154.59" y2="239.50" stroke="#2a2a2a" stroke-width="0.8" />
<line x1="153.49" y1="227.60" x2="155.69" y2="227.60" stroke="#2a2a2a" stroke-width="0.8" />
<line x1="153.49" y1="239.50" x2="155.69" y2="239.50" stroke="#2a2a2a" stroke-width="0.8" />
<line x1="160.78" y1="229.50" x2="160.78" y2="239.00" stroke="#2a2a2a" stroke-width="0.8" />
<line x1="159.68" y1="229.50" x2="161.88" y2="229.50" stroke="#2a2a2a" stroke-width="0.8" />
<line x1="159.68" y1="239.00" x2="161.88" y2="239.00" stroke="#2a2a2a" stroke-width="0.8" />
<line x1="166.97" y1="228.90" x2="166.97" y2="239.50" stroke="#2a2a2a" stroke-width="0.8" />
<line x1="165.87" y1="228.90" x2="168.07" y2="228.90" stroke="#2a2a2a" stroke-width="0.8" />
<line x1="165.87" y1="239.50" x2="168.07" y2="239.50" stroke="#2a2a2a" stroke-width="0.8" />
<path d="M49.36 241.40 L55.55 237.60 L61.73 234.50 L67.93 233.00 L74.12 235.10 L80.31 234.50 L86.50 237.60 L92.69 238.50 L98.88 238.50 L105.07 238.25 L111.26 237.60 L117.45 238.25 L123.64 237.60 L129.83 236.40 L136.02 235.75 L142.21 237.60 L148.40 233.25 L154.59 233.50 L160.78 234.25 L166.97 233.90" fill="none" stroke="#111" stroke-width="1.0"/>
<path d="M49.36 239.70L51.06 241.40L49.36 243.10L47.66 241.40Z" fill="#111" stroke="#111" stroke-width="0.4"/>
<path d="M55.55 235.90L57.25 237.60L55.55 239.30L53.84 237.60Z" fill="#111" stroke="#111" stroke-width="0.4"/>
<path d="M61.73 232.80L63.44 234.50L61.73 236.20L60.03 234.50Z" fill="#111" stroke="#111" stroke-width="0.4"/>
<path d="M67.93 231.30L69.63 233.00L67.93 234.70L66.23 233.00Z" fill="#111" stroke="#111" stroke-width="0.4"/>
<path d="M74.12 233.40L75.82 235.10L74.12 236.80L72.42 235.10Z" fill="#111" stroke="#111" stroke-width="0.4"/>
<path d="M80.31 232.80L82.01 234.50L80.31 236.20L78.61 234.50Z" fill="#111" stroke="#111" stroke-width="0.4"/>
<path d="M86.50 235.90L88.20 237.60L86.50 239.30L84.80 237.60Z" fill="#111" stroke="#111" stroke-width="0.4"/>
<path d="M92.69 236.80L94.39 238.50L92.69 240.20L90.98 238.50Z" fill="#111" stroke="#111" stroke-width="0.4"/>
<path d="M98.88 236.80L100.58 238.50L98.88 240.20L97.17 238.50Z" fill="#111" stroke="#111" stroke-width="0.4"/>
<path d="M105.07 236.55L106.77 238.25L105.07 239.95L103.37 238.25Z" fill="#111" stroke="#111" stroke-width="0.4"/>
<path d="M111.26 235.90L112.96 237.60L111.26 239.30L109.56 237.60Z" fill="#111" stroke="#111" stroke-width="0.4"/>
<path d="M117.45 236.55L119.15 238.25L117.45 239.95L115.75 238.25Z" fill="#111" stroke="#111" stroke-width="0.4"/>
<path d="M123.64 235.90L125.34 237.60L123.64 239.30L121.94 237.60Z" fill="#111" stroke="#111" stroke-width="0.4"/>
<path d="M129.83 234.70L131.53 236.40L129.83 238.10L128.13 236.40Z" fill="#111" stroke="#111" stroke-width="0.4"/>
<path d="M136.02 234.05L137.72 235.75L136.02 237.45L134.32 235.75Z" fill="#111" stroke="#111" stroke-width="0.4"/>
<path d="M142.21 235.90L143.91 237.60L142.21 239.30L140.51 237.60Z" fill="#111" stroke="#111" stroke-width="0.4"/>
<path d="M148.40 231.55L150.09 233.25L148.40 234.95L146.70 233.25Z" fill="#111" stroke="#111" stroke-width="0.4"/>
<path d="M154.59 231.80L156.28 233.50L154.59 235.20L152.89 233.50Z" fill="#111" stroke="#111" stroke-width="0.4"/>
<path d="M160.78 232.55L162.47 234.25L160.78 235.95L159.08 234.25Z" fill="#111" stroke="#111" stroke-width="0.4"/>
<path d="M166.97 232.20L168.67 233.90L166.97 235.60L165.27 233.90Z" fill="#111" stroke="#111" stroke-width="0.4"/>
<line x1="49.36" y1="206.90" x2="49.36" y2="215.60" stroke="#2a2a2a" stroke-width="0.8" />
<line x1="48.26" y1="206.90" x2="50.46" y2="206.90" stroke="#2a2a2a" stroke-width="0.8" />
<line x1="48.26" y1="215.60" x2="50.46" y2="215.60" stroke="#2a2a2a" stroke-width="0.8" />
<line x1="55.55" y1="201.25" x2="55.55" y2="211.90" stroke="#2a2a2a" stroke-width="0.8" />
<line x1="54.45" y1="201.25" x2="56.65" y2="201.25" stroke="#2a2a2a" stroke-width="0.8" />
<line x1="54.45" y1="211.90" x2="56.65" y2="211.90" stroke="#2a2a2a" stroke-width="0.8" />
<line x1="61.73" y1="198.00" x2="61.73" y2="208.00" stroke="#2a2a2a" stroke-width="0.8" />
<line x1="60.63" y1="198.00" x2="62.84" y2="198.00" stroke="#2a2a2a" stroke-width="0.8" />
<line x1="60.63" y1="208.00" x2="62.84" y2="208.00" stroke="#2a2a2a" stroke-width="0.8" />
<line x1="67.93" y1="193.10" x2="67.93" y2="208.50" stroke="#2a2a2a" stroke-width="0.8" />
<line x1="66.83" y1="193.10" x2="69.03" y2="193.10" stroke="#2a2a2a" stroke-width="0.8" />
<line x1="66.83" y1="208.50" x2="69.03" y2="208.50" stroke="#2a2a2a" stroke-width="0.8" />
<line x1="74.12" y1="195.60" x2="74.12" y2="210.60" stroke="#2a2a2a" stroke-width="0.8" />
<line x1="73.02" y1="195.60" x2="75.22" y2="195.60" stroke="#2a2a2a" stroke-width="0.8" />
<line x1="73.02" y1="210.60" x2="75.22" y2="210.60" stroke="#2a2a2a" stroke-width="0.8" />
<line x1="80.31" y1="196.25" x2="80.31" y2="213.75" stroke="#2a2a2a" stroke-width="0.8" />
<line x1="79.21" y1="196.25" x2="81.41" y2="196.25" stroke="#2a2a2a" stroke-width="0.8" />
<line x1="79.21" y1="213.75" x2="81.41" y2="213.75" stroke="#2a2a2a" stroke-width="0.8" />
<line x1="86.50" y1="200.00" x2="86.50" y2="210.00" stroke="#2a2a2a" stroke-width="0.8" />
<line x1="85.40" y1="200.00" x2="87.59" y2="200.00" stroke="#2a2a2a" stroke-width="0.8" />
<line x1="85.40" y1="210.00" x2="87.59" y2="210.00" stroke="#2a2a2a" stroke-width="0.8" />
<line x1="92.69" y1="201.90" x2="92.69" y2="210.00" stroke="#2a2a2a" stroke-width="0.8" />
<line x1="91.59" y1="201.90" x2="93.78" y2="201.90" stroke="#2a2a2a" stroke-width="0.8" />
<line x1="91.59" y1="210.00" x2="93.78" y2="210.00" stroke="#2a2a2a" stroke-width="0.8" />
<line x1="98.88" y1="202.00" x2="98.88" y2="210.50" stroke="#2a2a2a" stroke-width="0.8" />
<line x1="97.78" y1="202.00" x2="99.97" y2="202.00" stroke="#2a2a2a" stroke-width="0.8" />
<line x1="97.78" y1="210.50" x2="99.97" y2="210.50" stroke="#2a2a2a" stroke-width="0.8" />
<line x1="105.07" y1="202.00" x2="105.07" y2="210.00" stroke="#2a2a2a" stroke-width="0.8" />
<line x1="103.97" y1="202.00" x2="106.17" y2="202.00" stroke="#2a2a2a" stroke-width="0.8" />
<line x1="103.97" y1="210.00" x2="106.17" y2="210.00" stroke="#2a2a2a" stroke-width="0.8" />
<line x1="111.26" y1="204.00" x2="111.26" y2="206.50" stroke="#2a2a2a" stroke-width="0.8" />
<line x1="110.16" y1="204.00" x2="112.36" y2="204.00" stroke="#2a2a2a" stroke-width="0.8" />
<line x1="110.16" y1="206.50" x2="112.36" y2="206.50" stroke="#2a2a2a" stroke-width="0.8" />
<line x1="117.45" y1="202.50" x2="117.45" y2="209.00" stroke="#2a2a2a" stroke-width="0.8" />
<line x1="116.35" y1="202.50" x2="118.55" y2="202.50" stroke="#2a2a2a" stroke-width="0.8" />
<line x1="116.35" y1="209.00" x2="118.55" y2="209.00" stroke="#2a2a2a" stroke-width="0.8" />
<line x1="123.64" y1="202.50" x2="123.64" y2="209.00" stroke="#2a2a2a" stroke-width="0.8" />
<line x1="122.54" y1="202.50" x2="124.73" y2="202.50" stroke="#2a2a2a" stroke-width="0.8" />
<line x1="122.54" y1="209.00" x2="124.73" y2="209.00" stroke="#2a2a2a" stroke-width="0.8" />
<line x1="129.83" y1="202.00" x2="129.83" y2="210.00" stroke="#2a2a2a" stroke-width="0.8" />
<line x1="128.73" y1="202.00" x2="130.93" y2="202.00" stroke="#2a2a2a" stroke-width="0.8" />
<line x1="128.73" y1="210.00" x2="130.93" y2="210.00" stroke="#2a2a2a" stroke-width="0.8" />
<line x1="136.02" y1="201.50" x2="136.02" y2="208.50" stroke="#2a2a2a" stroke-width="0.8" />
<line x1="134.92" y1="201.50" x2="137.12" y2="201.50" stroke="#2a2a2a" stroke-width="0.8" />
<line x1="134.92" y1="208.50" x2="137.12" y2="208.50" stroke="#2a2a2a" stroke-width="0.8" />
<line x1="142.21" y1="202.00" x2="142.21" y2="208.50" stroke="#2a2a2a" stroke-width="0.8" />
<line x1="141.11" y1="202.00" x2="143.31" y2="202.00" stroke="#2a2a2a" stroke-width="0.8" />
<line x1="141.11" y1="208.50" x2="143.31" y2="208.50" stroke="#2a2a2a" stroke-width="0.8" />
<line x1="148.40" y1="198.50" x2="148.40" y2="205.00" stroke="#2a2a2a" stroke-width="0.8" />
<line x1="147.30" y1="198.50" x2="149.50" y2="198.50" stroke="#2a2a2a" stroke-width="0.8" />
<line x1="147.30" y1="205.00" x2="149.50" y2="205.00" stroke="#2a2a2a" stroke-width="0.8" />
<line x1="154.59" y1="199.50" x2="154.59" y2="202.50" stroke="#2a2a2a" stroke-width="0.8" />
<line x1="153.49" y1="199.50" x2="155.69" y2="199.50" stroke="#2a2a2a" stroke-width="0.8" />
<line x1="153.49" y1="202.50" x2="155.69" y2="202.50" stroke="#2a2a2a" stroke-width="0.8" />
<line x1="160.78" y1="199.40" x2="160.78" y2="204.40" stroke="#2a2a2a" stroke-width="0.8" />
<line x1="159.68" y1="199.40" x2="161.88" y2="199.40" stroke="#2a2a2a" stroke-width="0.8" />
<line x1="159.68" y1="204.40" x2="161.88" y2="204.40" stroke="#2a2a2a" stroke-width="0.8" />
<line x1="166.97" y1="196.90" x2="166.97" y2="207.50" stroke="#2a2a2a" stroke-width="0.8" />
<line x1="165.87" y1="196.90" x2="168.07" y2="196.90" stroke="#2a2a2a" stroke-width="0.8" />
<line x1="165.87" y1="207.50" x2="168.07" y2="207.50" stroke="#2a2a2a" stroke-width="0.8" />
<path d="M49.36 210.60 L55.55 206.90 L61.73 203.10 L67.93 199.75 L74.12 203.10 L80.31 202.75 L86.50 205.60 L92.69 206.50 L98.88 206.50 L105.07 206.00 L111.26 205.25 L117.45 205.60 L123.64 205.60 L129.83 206.00 L136.02 205.25 L142.21 205.25 L148.40 201.90 L154.59 201.00 L160.78 202.50 L166.97 201.90" fill="none" stroke="#111" stroke-width="1.0"/>
<path d="M49.36 208.90L51.06 210.60L49.36 212.30L47.66 210.60Z" fill="#111" stroke="#111" stroke-width="0.4"/>
<path d="M55.55 205.20L57.25 206.90L55.55 208.60L53.84 206.90Z" fill="#111" stroke="#111" stroke-width="0.4"/>
<path d="M61.73 201.40L63.44 203.10L61.73 204.80L60.03 203.10Z" fill="#111" stroke="#111" stroke-width="0.4"/>
<path d="M67.93 198.05L69.63 199.75L67.93 201.45L66.23 199.75Z" fill="#111" stroke="#111" stroke-width="0.4"/>
<path d="M74.12 201.40L75.82 203.10L74.12 204.80L72.42 203.10Z" fill="#111" stroke="#111" stroke-width="0.4"/>
<path d="M80.31 201.05L82.01 202.75L80.31 204.45L78.61 202.75Z" fill="#111" stroke="#111" stroke-width="0.4"/>
<path d="M86.50 203.90L88.20 205.60L86.50 207.30L84.80 205.60Z" fill="#111" stroke="#111" stroke-width="0.4"/>
<path d="M92.69 204.80L94.39 206.50L92.69 208.20L90.98 206.50Z" fill="#111" stroke="#111" stroke-width="0.4"/>
<path d="M98.88 204.80L100.58 206.50L98.88 208.20L97.17 206.50Z" fill="#111" stroke="#111" stroke-width="0.4"/>
<path d="M105.07 204.30L106.77 206.00L105.07 207.70L103.37 206.00Z" fill="#111" stroke="#111" stroke-width="0.4"/>
<path d="M111.26 203.55L112.96 205.25L111.26 206.95L109.56 205.25Z" fill="#111" stroke="#111" stroke-width="0.4"/>
<path d="M117.45 203.90L119.15 205.60L117.45 207.30L115.75 205.60Z" fill="#111" stroke="#111" stroke-width="0.4"/>
<path d="M123.64 203.90L125.34 205.60L123.64 207.30L121.94 205.60Z" fill="#111" stroke="#111" stroke-width="0.4"/>
<path d="M129.83 204.30L131.53 206.00L129.83 207.70L128.13 206.00Z" fill="#111" stroke="#111" stroke-width="0.4"/>
<path d="M136.02 203.55L137.72 205.25L136.02 206.95L134.32 205.25Z" fill="#111" stroke="#111" stroke-width="0.4"/>
<path d="M142.21 203.55L143.91 205.25L142.21 206.95L140.51 205.25Z" fill="#111" stroke="#111" stroke-width="0.4"/>
<path d="M148.40 200.20L150.09 201.90L148.40 203.60L146.70 201.90Z" fill="#111" stroke="#111" stroke-width="0.4"/>
<path d="M154.59 199.30L156.28 201.00L154.59 202.70L152.89 201.00Z" fill="#111" stroke="#111" stroke-width="0.4"/>
<path d="M160.78 200.80L162.47 202.50L160.78 204.20L159.08 202.50Z" fill="#111" stroke="#111" stroke-width="0.4"/>
<path d="M166.97 200.20L168.67 201.90L166.97 203.60L165.27 201.90Z" fill="#111" stroke="#111" stroke-width="0.4"/>
<path d="M29.10 294.30L31.00 292.85L32.90 294.30L31.00 295.75Z" fill="#111"/>
<text x="36.30" y="293.90" font-size="3.2" text-anchor="start" font-weight="bold" fill="#111" stroke="#111" stroke-width="0.16" textLength="36.25" lengthAdjust="spacingAndGlyphs" >Systolic Blood Pressure</text>
<text x="36.30" y="297.65" font-size="3.2" text-anchor="start" font-weight="bold" fill="#111" stroke="#111" stroke-width="0.16" >Vehicle Group</text>
<path d="M29.10 302.20L31.00 300.75L32.90 302.20L31.00 303.65Z" fill="#111"/>
<text x="36.30" y="301.65" font-size="3.2" text-anchor="start" font-weight="bold" fill="#111" stroke="#111" stroke-width="0.16" textLength="37.30" lengthAdjust="spacingAndGlyphs" >Diastolic Blood Pressure</text>
<text x="36.30" y="305.40" font-size="3.2" text-anchor="start" font-weight="bold" fill="#111" stroke="#111" stroke-width="0.16" >Vehicle Group</text>
<path d="M88.55 294.50L90.40 293.10L92.25 294.50L90.40 295.90Z" fill="#fff" stroke="#111" stroke-width="1.0"/>
<text x="94.95" y="293.45" font-size="3.2" text-anchor="start" font-weight="bold" fill="#111" stroke="#111" stroke-width="0.16" textLength="36.25" lengthAdjust="spacingAndGlyphs" >Systolic Blood Pressure</text>
<text x="94.95" y="297.15" font-size="3.2" text-anchor="start" font-weight="bold" fill="#111" stroke="#111" stroke-width="0.16" >Valsartan Group</text>
<path d="M88.55 302.30L90.40 300.90L92.25 302.30L90.40 303.70Z" fill="#fff" stroke="#111" stroke-width="1.0"/>
<text x="94.95" y="301.55" font-size="3.2" text-anchor="start" font-weight="bold" fill="#111" stroke="#111" stroke-width="0.16" textLength="37.30" lengthAdjust="spacingAndGlyphs" >Diastolic Blood Pressure</text>
<text x="94.95" y="305.25" font-size="3.2" text-anchor="start" font-weight="bold" fill="#111" stroke="#111" stroke-width="0.16" >Valsartan Group</text>
<text x="36.00" y="311.33" font-size="3.7" text-anchor="start" font-weight="bold" fill="#111" stroke="#111" stroke-width="0.16" textLength="40.50" lengthAdjust="spacingAndGlyphs" >Values are Means ± SD</text>
<line x1="235.20" y1="192.56" x2="396.00" y2="192.56" stroke="#cfcfcf" stroke-width="0.8" />
<line x1="235.20" y1="219.63" x2="396.00" y2="219.63" stroke="#cfcfcf" stroke-width="0.8" />
<line x1="235.20" y1="246.69" x2="396.00" y2="246.69" stroke="#cfcfcf" stroke-width="0.8" />
<line x1="234.70" y1="165.00" x2="234.70" y2="274.35" stroke="#111" stroke-width="1.15" />
<line x1="234.10" y1="273.75" x2="396.00" y2="273.75" stroke="#111" stroke-width="1.15" />
<line x1="233.40" y1="165.50" x2="234.60" y2="165.50" stroke="#1a1a1a" stroke-width="0.7" />
<text x="232.95" y="167.88" font-size="5.5" text-anchor="end" font-weight="bold" fill="#1a1a1a" stroke="#1a1a1a" stroke-width="0.15" >450</text>
<line x1="233.40" y1="192.56" x2="234.60" y2="192.56" stroke="#1a1a1a" stroke-width="0.7" />
<text x="232.95" y="194.94" font-size="5.5" text-anchor="end" font-weight="bold" fill="#1a1a1a" stroke="#1a1a1a" stroke-width="0.15" >400</text>
<line x1="233.40" y1="219.63" x2="234.60" y2="219.63" stroke="#1a1a1a" stroke-width="0.7" />
<text x="232.95" y="222.01" font-size="5.5" text-anchor="end" font-weight="bold" fill="#1a1a1a" stroke="#1a1a1a" stroke-width="0.15" >350</text>
<line x1="233.40" y1="246.69" x2="234.60" y2="246.69" stroke="#1a1a1a" stroke-width="0.7" />
<text x="232.95" y="249.07" font-size="5.5" text-anchor="end" font-weight="bold" fill="#1a1a1a" stroke="#1a1a1a" stroke-width="0.15" >300</text>
<line x1="233.40" y1="273.76" x2="234.60" y2="273.76" stroke="#1a1a1a" stroke-width="0.7" />
<text x="232.95" y="276.14" font-size="5.5" text-anchor="end" font-weight="bold" fill="#1a1a1a" stroke="#1a1a1a" stroke-width="0.15" >250</text>
<line x1="234.84" y1="273.75" x2="234.84" y2="275.05" stroke="#1a1a1a" stroke-width="0.7" />
<text x="234.84" y="281.53" font-size="5.5" text-anchor="middle" font-weight="bold" fill="#1a1a1a" stroke="#1a1a1a" stroke-width="0.15" >-10</text>
<line x1="267.12" y1="273.75" x2="267.12" y2="275.05" stroke="#1a1a1a" stroke-width="0.7" />
<text x="267.12" y="281.53" font-size="5.5" text-anchor="middle" font-weight="bold" fill="#1a1a1a" stroke="#1a1a1a" stroke-width="0.15" >-5</text>
<line x1="299.40" y1="273.75" x2="299.40" y2="275.05" stroke="#1a1a1a" stroke-width="0.7" />
<text x="299.40" y="281.53" font-size="5.5" text-anchor="middle" font-weight="bold" fill="#1a1a1a" stroke="#1a1a1a" stroke-width="0.15" >0</text>
<line x1="331.68" y1="273.75" x2="331.68" y2="275.05" stroke="#1a1a1a" stroke-width="0.7" />
<text x="331.68" y="281.53" font-size="5.5" text-anchor="middle" font-weight="bold" fill="#1a1a1a" stroke="#1a1a1a" stroke-width="0.15" >5</text>
<line x1="363.96" y1="273.75" x2="363.96" y2="275.05" stroke="#1a1a1a" stroke-width="0.7" />
<text x="363.96" y="281.53" font-size="5.5" text-anchor="middle" font-weight="bold" fill="#1a1a1a" stroke="#1a1a1a" stroke-width="0.15" >10</text>
<line x1="396.24" y1="273.75" x2="396.24" y2="275.05" stroke="#1a1a1a" stroke-width="0.7" />
<text x="396.24" y="281.53" font-size="5.5" text-anchor="middle" font-weight="bold" fill="#1a1a1a" stroke="#1a1a1a" stroke-width="0.15" >15</text>
<line x1="299.40" y1="174.55" x2="299.40" y2="273.75" stroke="#222" stroke-width="0.9" stroke-dasharray="1.2 1.7"/>
<path d="M297.50 171.05L301.30 171.05L299.40 173.05Z" fill="#222"/>
<text x="284.40" y="167.10" font-size="6.54" text-anchor="start" font-weight="bold" fill="#111" stroke="#111" stroke-width="0.18" textLength="62.50" lengthAdjust="spacingAndGlyphs" >Nightime Heart Rate</text>
<text x="308.10" y="289.83" font-size="5.36" text-anchor="start" font-weight="bold" fill="#111" stroke="#111" stroke-width="0.25" textLength="14.40" lengthAdjust="spacingAndGlyphs" >DAYS</text>
<text x="0" y="0" font-size="5.40" font-weight="bold" text-anchor="middle" fill="#111" stroke="#111" stroke-width="0.15" textLength="26.80" lengthAdjust="spacingAndGlyphs" transform="translate(218.04 217.70) rotate(-90)">Beats/min</text>
<line x1="263.89" y1="197.50" x2="263.89" y2="209.00" stroke="#2a2a2a" stroke-width="0.8" />
<line x1="262.79" y1="197.50" x2="264.99" y2="197.50" stroke="#2a2a2a" stroke-width="0.8" />
<line x1="262.79" y1="209.00" x2="264.99" y2="209.00" stroke="#2a2a2a" stroke-width="0.8" />
<line x1="270.35" y1="196.90" x2="270.35" y2="207.00" stroke="#2a2a2a" stroke-width="0.8" />
<line x1="269.25" y1="196.90" x2="271.45" y2="196.90" stroke="#2a2a2a" stroke-width="0.8" />
<line x1="269.25" y1="207.00" x2="271.45" y2="207.00" stroke="#2a2a2a" stroke-width="0.8" />
<line x1="276.80" y1="181.90" x2="276.80" y2="204.00" stroke="#2a2a2a" stroke-width="0.8" />
<line x1="275.70" y1="181.90" x2="277.90" y2="181.90" stroke="#2a2a2a" stroke-width="0.8" />
<line x1="275.70" y1="204.00" x2="277.90" y2="204.00" stroke="#2a2a2a" stroke-width="0.8" />
<line x1="283.26" y1="182.00" x2="283.26" y2="195.00" stroke="#2a2a2a" stroke-width="0.8" />
<line x1="282.16" y1="182.00" x2="284.36" y2="182.00" stroke="#2a2a2a" stroke-width="0.8" />
<line x1="282.16" y1="195.00" x2="284.36" y2="195.00" stroke="#2a2a2a" stroke-width="0.8" />
<line x1="289.72" y1="184.00" x2="289.72" y2="197.00" stroke="#2a2a2a" stroke-width="0.8" />
<line x1="288.62" y1="184.00" x2="290.82" y2="184.00" stroke="#2a2a2a" stroke-width="0.8" />
<line x1="288.62" y1="197.00" x2="290.82" y2="197.00" stroke="#2a2a2a" stroke-width="0.8" />
<line x1="296.17" y1="192.00" x2="296.17" y2="204.00" stroke="#2a2a2a" stroke-width="0.8" />
<line x1="295.07" y1="192.00" x2="297.27" y2="192.00" stroke="#2a2a2a" stroke-width="0.8" />
<line x1="295.07" y1="204.00" x2="297.27" y2="204.00" stroke="#2a2a2a" stroke-width="0.8" />
<line x1="302.63" y1="199.00" x2="302.63" y2="213.00" stroke="#2a2a2a" stroke-width="0.8" />
<line x1="301.53" y1="199.00" x2="303.73" y2="199.00" stroke="#2a2a2a" stroke-width="0.8" />
<line x1="301.53" y1="213.00" x2="303.73" y2="213.00" stroke="#2a2a2a" stroke-width="0.8" />
<line x1="309.08" y1="194.00" x2="309.08" y2="205.00" stroke="#2a2a2a" stroke-width="0.8" />
<line x1="307.98" y1="194.00" x2="310.18" y2="194.00" stroke="#2a2a2a" stroke-width="0.8" />
<line x1="307.98" y1="205.00" x2="310.18" y2="205.00" stroke="#2a2a2a" stroke-width="0.8" />
<line x1="315.54" y1="193.00" x2="315.54" y2="204.00" stroke="#2a2a2a" stroke-width="0.8" />
<line x1="314.44" y1="193.00" x2="316.64" y2="193.00" stroke="#2a2a2a" stroke-width="0.8" />
<line x1="314.44" y1="204.00" x2="316.64" y2="204.00" stroke="#2a2a2a" stroke-width="0.8" />
<line x1="322.00" y1="191.00" x2="322.00" y2="202.50" stroke="#2a2a2a" stroke-width="0.8" />
<line x1="320.90" y1="191.00" x2="323.10" y2="191.00" stroke="#2a2a2a" stroke-width="0.8" />
<line x1="320.90" y1="202.50" x2="323.10" y2="202.50" stroke="#2a2a2a" stroke-width="0.8" />
<line x1="328.45" y1="190.00" x2="328.45" y2="202.50" stroke="#2a2a2a" stroke-width="0.8" />
<line x1="327.35" y1="190.00" x2="329.55" y2="190.00" stroke="#2a2a2a" stroke-width="0.8" />
<line x1="327.35" y1="202.50" x2="329.55" y2="202.50" stroke="#2a2a2a" stroke-width="0.8" />
<line x1="334.91" y1="192.00" x2="334.91" y2="205.00" stroke="#2a2a2a" stroke-width="0.8" />
<line x1="333.81" y1="192.00" x2="336.01" y2="192.00" stroke="#2a2a2a" stroke-width="0.8" />
<line x1="333.81" y1="205.00" x2="336.01" y2="205.00" stroke="#2a2a2a" stroke-width="0.8" />
<line x1="341.36" y1="199.00" x2="341.36" y2="212.00" stroke="#2a2a2a" stroke-width="0.8" />
<line x1="340.26" y1="199.00" x2="342.46" y2="199.00" stroke="#2a2a2a" stroke-width="0.8" />
<line x1="340.26" y1="212.00" x2="342.46" y2="212.00" stroke="#2a2a2a" stroke-width="0.8" />
<line x1="347.82" y1="208.00" x2="347.82" y2="219.00" stroke="#2a2a2a" stroke-width="0.8" />
<line x1="346.72" y1="208.00" x2="348.92" y2="208.00" stroke="#2a2a2a" stroke-width="0.8" />
<line x1="346.72" y1="219.00" x2="348.92" y2="219.00" stroke="#2a2a2a" stroke-width="0.8" />
<line x1="354.28" y1="200.00" x2="354.28" y2="212.50" stroke="#2a2a2a" stroke-width="0.8" />
<line x1="353.18" y1="200.00" x2="355.38" y2="200.00" stroke="#2a2a2a" stroke-width="0.8" />
<line x1="353.18" y1="212.50" x2="355.38" y2="212.50" stroke="#2a2a2a" stroke-width="0.8" />
<line x1="360.73" y1="202.00" x2="360.73" y2="214.00" stroke="#2a2a2a" stroke-width="0.8" />
<line x1="359.63" y1="202.00" x2="361.83" y2="202.00" stroke="#2a2a2a" stroke-width="0.8" />
<line x1="359.63" y1="214.00" x2="361.83" y2="214.00" stroke="#2a2a2a" stroke-width="0.8" />
<line x1="367.19" y1="208.00" x2="367.19" y2="221.00" stroke="#2a2a2a" stroke-width="0.8" />
<line x1="366.09" y1="208.00" x2="368.29" y2="208.00" stroke="#2a2a2a" stroke-width="0.8" />
<line x1="366.09" y1="221.00" x2="368.29" y2="221.00" stroke="#2a2a2a" stroke-width="0.8" />
<line x1="373.64" y1="200.00" x2="373.64" y2="211.00" stroke="#2a2a2a" stroke-width="0.8" />
<line x1="372.54" y1="200.00" x2="374.74" y2="200.00" stroke="#2a2a2a" stroke-width="0.8" />
<line x1="372.54" y1="211.00" x2="374.74" y2="211.00" stroke="#2a2a2a" stroke-width="0.8" />
<line x1="380.10" y1="196.00" x2="380.10" y2="206.00" stroke="#2a2a2a" stroke-width="0.8" />
<line x1="379.00" y1="196.00" x2="381.20" y2="196.00" stroke="#2a2a2a" stroke-width="0.8" />
<line x1="379.00" y1="206.00" x2="381.20" y2="206.00" stroke="#2a2a2a" stroke-width="0.8" />
<line x1="386.56" y1="200.50" x2="386.56" y2="211.00" stroke="#2a2a2a" stroke-width="0.8" />
<line x1="385.46" y1="200.50" x2="387.66" y2="200.50" stroke="#2a2a2a" stroke-width="0.8" />
<line x1="385.46" y1="211.00" x2="387.66" y2="211.00" stroke="#2a2a2a" stroke-width="0.8" />
<path d="M263.89 203.10 L270.35 201.90 L276.80 195.00 L283.26 188.75 L289.72 190.60 L296.17 198.10 L302.63 206.25 L309.08 199.40 L315.54 198.75 L322.00 196.90 L328.45 196.25 L334.91 198.75 L341.36 205.60 L347.82 214.00 L354.28 206.25 L360.73 208.10 L367.19 215.00 L373.64 205.60 L380.10 201.00 L386.56 206.00" fill="none" stroke="#1a1a1a" stroke-width="0.7" stroke-dasharray="1.4 0.6"/>
<path d="M263.89 201.50L265.49 203.10L263.89 204.70L262.29 203.10Z" fill="#fff" stroke="#111" stroke-width="0.9"/>
<path d="M270.35 200.30L271.95 201.90L270.35 203.50L268.75 201.90Z" fill="#fff" stroke="#111" stroke-width="0.9"/>
<path d="M276.80 193.40L278.40 195.00L276.80 196.60L275.20 195.00Z" fill="#fff" stroke="#111" stroke-width="0.9"/>
<path d="M283.26 187.15L284.86 188.75L283.26 190.35L281.66 188.75Z" fill="#fff" stroke="#111" stroke-width="0.9"/>
<path d="M289.72 189.00L291.32 190.60L289.72 192.20L288.12 190.60Z" fill="#fff" stroke="#111" stroke-width="0.9"/>
<path d="M296.17 196.50L297.77 198.10L296.17 199.70L294.57 198.10Z" fill="#fff" stroke="#111" stroke-width="0.9"/>
<path d="M302.63 204.65L304.23 206.25L302.63 207.85L301.03 206.25Z" fill="#fff" stroke="#111" stroke-width="0.9"/>
<path d="M309.08 197.80L310.68 199.40L309.08 201.00L307.48 199.40Z" fill="#fff" stroke="#111" stroke-width="0.9"/>
<path d="M315.54 197.15L317.14 198.75L315.54 200.35L313.94 198.75Z" fill="#fff" stroke="#111" stroke-width="0.9"/>
<path d="M322.00 195.30L323.60 196.90L322.00 198.50L320.40 196.90Z" fill="#fff" stroke="#111" stroke-width="0.9"/>
<path d="M328.45 194.65L330.05 196.25L328.45 197.85L326.85 196.25Z" fill="#fff" stroke="#111" stroke-width="0.9"/>
<path d="M334.91 197.15L336.51 198.75L334.91 200.35L333.31 198.75Z" fill="#fff" stroke="#111" stroke-width="0.9"/>
<path d="M341.36 204.00L342.96 205.60L341.36 207.20L339.76 205.60Z" fill="#fff" stroke="#111" stroke-width="0.9"/>
<path d="M347.82 212.40L349.42 214.00L347.82 215.60L346.22 214.00Z" fill="#fff" stroke="#111" stroke-width="0.9"/>
<path d="M354.28 204.65L355.88 206.25L354.28 207.85L352.68 206.25Z" fill="#fff" stroke="#111" stroke-width="0.9"/>
<path d="M360.73 206.50L362.33 208.10L360.73 209.70L359.13 208.10Z" fill="#fff" stroke="#111" stroke-width="0.9"/>
<path d="M367.19 213.40L368.79 215.00L367.19 216.60L365.59 215.00Z" fill="#fff" stroke="#111" stroke-width="0.9"/>
<path d="M373.64 204.00L375.24 205.60L373.64 207.20L372.04 205.60Z" fill="#fff" stroke="#111" stroke-width="0.9"/>
<path d="M380.10 199.40L381.70 201.00L380.10 202.60L378.50 201.00Z" fill="#fff" stroke="#111" stroke-width="0.9"/>
<path d="M386.56 204.40L388.16 206.00L386.56 207.60L384.96 206.00Z" fill="#fff" stroke="#111" stroke-width="0.9"/>
<line x1="263.89" y1="205.00" x2="263.89" y2="211.90" stroke="#2a2a2a" stroke-width="0.8" />
<line x1="262.79" y1="205.00" x2="264.99" y2="205.00" stroke="#2a2a2a" stroke-width="0.8" />
<line x1="262.79" y1="211.90" x2="264.99" y2="211.90" stroke="#2a2a2a" stroke-width="0.8" />
<line x1="270.35" y1="203.00" x2="270.35" y2="212.50" stroke="#2a2a2a" stroke-width="0.8" />
<line x1="269.25" y1="203.00" x2="271.45" y2="203.00" stroke="#2a2a2a" stroke-width="0.8" />
<line x1="269.25" y1="212.50" x2="271.45" y2="212.50" stroke="#2a2a2a" stroke-width="0.8" />
<line x1="276.80" y1="198.00" x2="276.80" y2="208.10" stroke="#2a2a2a" stroke-width="0.8" />
<line x1="275.70" y1="198.00" x2="277.90" y2="198.00" stroke="#2a2a2a" stroke-width="0.8" />
<line x1="275.70" y1="208.10" x2="277.90" y2="208.10" stroke="#2a2a2a" stroke-width="0.8" />
<line x1="283.26" y1="180.00" x2="283.26" y2="196.25" stroke="#2a2a2a" stroke-width="0.8" />
<line x1="282.16" y1="180.00" x2="284.36" y2="180.00" stroke="#2a2a2a" stroke-width="0.8" />
<line x1="282.16" y1="196.25" x2="284.36" y2="196.25" stroke="#2a2a2a" stroke-width="0.8" />
<line x1="289.72" y1="180.60" x2="289.72" y2="200.60" stroke="#2a2a2a" stroke-width="0.8" />
<line x1="288.62" y1="180.60" x2="290.82" y2="180.60" stroke="#2a2a2a" stroke-width="0.8" />
<line x1="288.62" y1="200.60" x2="290.82" y2="200.60" stroke="#2a2a2a" stroke-width="0.8" />
<line x1="296.17" y1="188.75" x2="296.17" y2="201.90" stroke="#2a2a2a" stroke-width="0.8" />
<line x1="295.07" y1="188.75" x2="297.27" y2="188.75" stroke="#2a2a2a" stroke-width="0.8" />
<line x1="295.07" y1="201.90" x2="297.27" y2="201.90" stroke="#2a2a2a" stroke-width="0.8" />
<line x1="302.63" y1="191.25" x2="302.63" y2="215.00" stroke="#2a2a2a" stroke-width="0.8" />
<line x1="301.53" y1="191.25" x2="303.73" y2="191.25" stroke="#2a2a2a" stroke-width="0.8" />
<line x1="301.53" y1="215.00" x2="303.73" y2="215.00" stroke="#2a2a2a" stroke-width="0.8" />
<line x1="309.08" y1="192.50" x2="309.08" y2="206.90" stroke="#2a2a2a" stroke-width="0.8" />
<line x1="307.98" y1="192.50" x2="310.18" y2="192.50" stroke="#2a2a2a" stroke-width="0.8" />
<line x1="307.98" y1="206.90" x2="310.18" y2="206.90" stroke="#2a2a2a" stroke-width="0.8" />
<line x1="315.54" y1="191.25" x2="315.54" y2="206.25" stroke="#2a2a2a" stroke-width="0.8" />
<line x1="314.44" y1="191.25" x2="316.64" y2="191.25" stroke="#2a2a2a" stroke-width="0.8" />
<line x1="314.44" y1="206.25" x2="316.64" y2="206.25" stroke="#2a2a2a" stroke-width="0.8" />
<line x1="322.00" y1="188.75" x2="322.00" y2="204.40" stroke="#2a2a2a" stroke-width="0.8" />
<line x1="320.90" y1="188.75" x2="323.10" y2="188.75" stroke="#2a2a2a" stroke-width="0.8" />
<line x1="320.90" y1="204.40" x2="323.10" y2="204.40" stroke="#2a2a2a" stroke-width="0.8" />
<line x1="328.45" y1="186.25" x2="328.45" y2="206.90" stroke="#2a2a2a" stroke-width="0.8" />
<line x1="327.35" y1="186.25" x2="329.55" y2="186.25" stroke="#2a2a2a" stroke-width="0.8" />
<line x1="327.35" y1="206.90" x2="329.55" y2="206.90" stroke="#2a2a2a" stroke-width="0.8" />
<line x1="334.91" y1="187.50" x2="334.91" y2="210.60" stroke="#2a2a2a" stroke-width="0.8" />
<line x1="333.81" y1="187.50" x2="336.01" y2="187.50" stroke="#2a2a2a" stroke-width="0.8" />
<line x1="333.81" y1="210.60" x2="336.01" y2="210.60" stroke="#2a2a2a" stroke-width="0.8" />
<line x1="341.36" y1="195.60" x2="341.36" y2="215.35" stroke="#2a2a2a" stroke-width="0.8" />
<line x1="340.26" y1="195.60" x2="342.46" y2="195.60" stroke="#2a2a2a" stroke-width="0.8" />
<line x1="340.26" y1="215.35" x2="342.46" y2="215.35" stroke="#2a2a2a" stroke-width="0.8" />
<line x1="347.82" y1="204.40" x2="347.82" y2="218.40" stroke="#2a2a2a" stroke-width="0.8" />
<line x1="346.72" y1="204.40" x2="348.92" y2="204.40" stroke="#2a2a2a" stroke-width="0.8" />
<line x1="346.72" y1="218.40" x2="348.92" y2="218.40" stroke="#2a2a2a" stroke-width="0.8" />
<line x1="354.28" y1="195.60" x2="354.28" y2="219.10" stroke="#2a2a2a" stroke-width="0.8" />
<line x1="353.18" y1="195.60" x2="355.38" y2="195.60" stroke="#2a2a2a" stroke-width="0.8" />
<line x1="353.18" y1="219.10" x2="355.38" y2="219.10" stroke="#2a2a2a" stroke-width="0.8" />
<line x1="360.73" y1="198.10" x2="360.73" y2="216.90" stroke="#2a2a2a" stroke-width="0.8" />
<line x1="359.63" y1="198.10" x2="361.83" y2="198.10" stroke="#2a2a2a" stroke-width="0.8" />
<line x1="359.63" y1="216.90" x2="361.83" y2="216.90" stroke="#2a2a2a" stroke-width="0.8" />
<line x1="367.19" y1="201.25" x2="367.19" y2="222.90" stroke="#2a2a2a" stroke-width="0.8" />
<line x1="366.09" y1="201.25" x2="368.29" y2="201.25" stroke="#2a2a2a" stroke-width="0.8" />
<line x1="366.09" y1="222.90" x2="368.29" y2="222.90" stroke="#2a2a2a" stroke-width="0.8" />
<line x1="373.64" y1="198.10" x2="373.64" y2="210.00" stroke="#2a2a2a" stroke-width="0.8" />
<line x1="372.54" y1="198.10" x2="374.74" y2="198.10" stroke="#2a2a2a" stroke-width="0.8" />
<line x1="372.54" y1="210.00" x2="374.74" y2="210.00" stroke="#2a2a2a" stroke-width="0.8" />
<line x1="380.10" y1="193.75" x2="380.10" y2="206.25" stroke="#2a2a2a" stroke-width="0.8" />
<line x1="379.00" y1="193.75" x2="381.20" y2="193.75" stroke="#2a2a2a" stroke-width="0.8" />
<line x1="379.00" y1="206.25" x2="381.20" y2="206.25" stroke="#2a2a2a" stroke-width="0.8" />
<line x1="386.56" y1="192.50" x2="386.56" y2="209.40" stroke="#2a2a2a" stroke-width="0.8" />
<line x1="385.46" y1="192.50" x2="387.66" y2="192.50" stroke="#2a2a2a" stroke-width="0.8" />
<line x1="385.46" y1="209.40" x2="387.66" y2="209.40" stroke="#2a2a2a" stroke-width="0.8" />
<path d="M263.89 208.10 L270.35 208.50 L276.80 203.50 L283.26 188.10 L289.72 190.60 L296.17 193.75 L302.63 203.10 L309.08 199.40 L315.54 198.75 L322.00 198.75 L328.45 198.75 L334.91 200.00 L341.36 205.60 L347.82 210.60 L354.28 205.60 L360.73 207.25 L367.19 209.00 L373.64 203.75 L380.10 200.00 L386.56 200.25" fill="none" stroke="#111" stroke-width="1.0"/>
<circle cx="263.89" cy="208.10" r="1.45" fill="#111" stroke="#111" stroke-width="0.6"/>
<circle cx="270.35" cy="208.50" r="1.45" fill="#111" stroke="#111" stroke-width="0.6"/>
<circle cx="276.80" cy="203.50" r="1.45" fill="#111" stroke="#111" stroke-width="0.6"/>
<circle cx="283.26" cy="188.10" r="1.45" fill="#111" stroke="#111" stroke-width="0.6"/>
<circle cx="289.72" cy="190.60" r="1.45" fill="#111" stroke="#111" stroke-width="0.6"/>
<circle cx="296.17" cy="193.75" r="1.45" fill="#111" stroke="#111" stroke-width="0.6"/>
<circle cx="302.63" cy="203.10" r="1.45" fill="#111" stroke="#111" stroke-width="0.6"/>
<circle cx="309.08" cy="199.40" r="1.45" fill="#111" stroke="#111" stroke-width="0.6"/>
<circle cx="315.54" cy="198.75" r="1.45" fill="#111" stroke="#111" stroke-width="0.6"/>
<circle cx="322.00" cy="198.75" r="1.45" fill="#111" stroke="#111" stroke-width="0.6"/>
<circle cx="328.45" cy="198.75" r="1.45" fill="#111" stroke="#111" stroke-width="0.6"/>
<circle cx="334.91" cy="200.00" r="1.45" fill="#111" stroke="#111" stroke-width="0.6"/>
<circle cx="341.36" cy="205.60" r="1.45" fill="#111" stroke="#111" stroke-width="0.6"/>
<circle cx="347.82" cy="210.60" r="1.45" fill="#111" stroke="#111" stroke-width="0.6"/>
<circle cx="354.28" cy="205.60" r="1.45" fill="#111" stroke="#111" stroke-width="0.6"/>
<circle cx="360.73" cy="207.25" r="1.45" fill="#111" stroke="#111" stroke-width="0.6"/>
<circle cx="367.19" cy="209.00" r="1.45" fill="#111" stroke="#111" stroke-width="0.6"/>
<circle cx="373.64" cy="203.75" r="1.45" fill="#111" stroke="#111" stroke-width="0.6"/>
<circle cx="380.10" cy="200.00" r="1.45" fill="#111" stroke="#111" stroke-width="0.6"/>
<circle cx="386.56" cy="200.25" r="1.45" fill="#111" stroke="#111" stroke-width="0.6"/>
<ellipse cx="245.00" cy="295.05" rx="1.8" ry="1.2" fill="#111"/>
<text x="249.40" y="294.16" font-size="3.35" text-anchor="start" font-weight="bold" fill="#111" stroke="#111" stroke-width="0.16" textLength="16.85" lengthAdjust="spacingAndGlyphs" >Heart Rate</text>
<text x="249.40" y="298.31" font-size="3.35" text-anchor="start" font-weight="bold" fill="#111" stroke="#111" stroke-width="0.16" textLength="21.85" lengthAdjust="spacingAndGlyphs" >Vehicle Group</text>
<path d="M287.05 294.70L288.90 293.30L290.75 294.70L288.90 296.10Z" fill="#fff" stroke="#111" stroke-width="1.0"/>
<text x="293.10" y="293.91" font-size="3.35" text-anchor="start" font-weight="bold" fill="#111" stroke="#111" stroke-width="0.16" textLength="16.85" lengthAdjust="spacingAndGlyphs" >Heart Rate</text>
<text x="293.10" y="297.91" font-size="3.35" text-anchor="start" font-weight="bold" fill="#111" stroke="#111" stroke-width="0.16" textLength="25.90" lengthAdjust="spacingAndGlyphs" >Valsartan Group</text>
<text x="249.40" y="305.40" font-size="3.9" text-anchor="start" font-weight="bold" fill="#111" stroke="#111" stroke-width="0.16" textLength="42.50" lengthAdjust="spacingAndGlyphs" >Values are Means ± SD</text>
</svg></body></html>
